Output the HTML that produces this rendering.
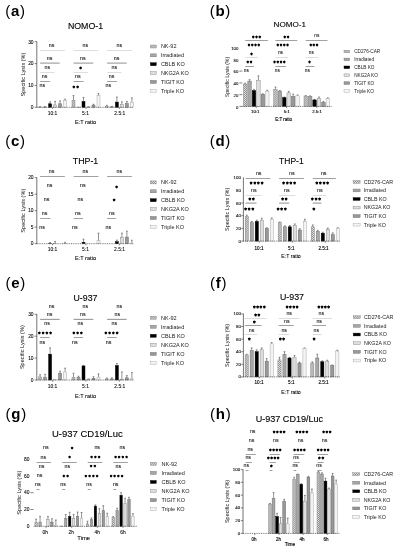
<!DOCTYPE html>
<html lang="en">
<head>
<meta charset="utf-8">
<title>Specific lysis figure</title>
<style>
html,body{margin:0;padding:0;background:#fff;}
body{width:397px;height:550px;overflow:hidden;}
svg{display:block;font-family:"Liberation Sans",Arial,sans-serif;}
</style>
</head>
<body>
<svg width="397" height="550" viewBox="0 0 397 550">
<defs>
<pattern id="hatch" width="1.4" height="1.4" patternUnits="userSpaceOnUse" patternTransform="rotate(-45)">
<rect width="1.4" height="1.4" fill="#e4e4e4"/>
<rect width="1.4" height="0.7" fill="#8c8c8c"/>
</pattern>
</defs>
<rect width="397" height="550" fill="#fff"/>
<g id="panel-a">
<text x="5.2" y="16" font-size="15" letter-spacing="0.75" fill="#000">(<tspan font-weight="bold">a</tspan>)</text>
<text x="85.5" y="28.7" font-size="8.8" text-anchor="middle" fill="#000" stroke="#000" stroke-width="0.12">NOMO-1</text>
<line x1="40.1" y1="50.5" x2="64.9" y2="50.5" stroke="#d4d4d4" stroke-width="0.8"/>
<text x="51.6" y="46.98" font-size="5.3" text-anchor="middle" fill="#000" stroke="#000" stroke-width="0.07">ns</text>
<line x1="40.1" y1="63.1" x2="59.7" y2="63.1" stroke="#9e9e9e" stroke-width="1.15"/>
<text x="49.6" y="59.88" font-size="5.3" text-anchor="middle" fill="#000" stroke="#000" stroke-width="0.07">ns</text>
<line x1="40.1" y1="72.5" x2="54.5" y2="72.5" stroke="#d4d4d4" stroke-width="0.8"/>
<text x="47.4" y="68.68" font-size="5.3" text-anchor="middle" fill="#000" stroke="#000" stroke-width="0.07">ns</text>
<line x1="40.1" y1="81.5" x2="50.1" y2="81.5" stroke="#787878" stroke-width="0.7"/>
<text x="44.6" y="77.98" font-size="5.3" text-anchor="middle" fill="#000" stroke="#000" stroke-width="0.07">ns</text>
<text x="42.3" y="87.28" font-size="5.3" text-anchor="middle" fill="#000" stroke="#000" stroke-width="0.07">ns</text>
<line x1="73.6" y1="50.5" x2="98.4" y2="50.5" stroke="#d4d4d4" stroke-width="0.8"/>
<text x="85.4" y="46.98" font-size="5.3" text-anchor="middle" fill="#000" stroke="#000" stroke-width="0.07">ns</text>
<line x1="73.6" y1="63.1" x2="93.2" y2="63.1" stroke="#9e9e9e" stroke-width="1.15"/>
<text x="82.8" y="59.88" font-size="5.3" text-anchor="middle" fill="#000" stroke="#000" stroke-width="0.07">ns</text>
<line x1="73.6" y1="72.5" x2="88" y2="72.5" stroke="#d4d4d4" stroke-width="0.8"/>
<text x="81.49" y="71.11" font-size="5.6" text-anchor="middle" fill="#000" letter-spacing="1.57" stroke="#000" stroke-width="0.8" stroke-linejoin="round">*</text>
<line x1="73.6" y1="81.5" x2="83.6" y2="81.5" stroke="#787878" stroke-width="0.7"/>
<text x="77.8" y="77.98" font-size="5.3" text-anchor="middle" fill="#000" stroke="#000" stroke-width="0.07">ns</text>
<text x="76.49" y="89.71" font-size="5.6" text-anchor="middle" fill="#000" letter-spacing="1.57" stroke="#000" stroke-width="0.8" stroke-linejoin="round">**</text>
<line x1="107.1" y1="50.5" x2="131.9" y2="50.5" stroke="#d4d4d4" stroke-width="0.8"/>
<text x="119.3" y="46.98" font-size="5.3" text-anchor="middle" fill="#000" stroke="#000" stroke-width="0.07">ns</text>
<line x1="107.1" y1="63.1" x2="126.7" y2="63.1" stroke="#9e9e9e" stroke-width="1.15"/>
<text x="116.6" y="59.88" font-size="5.3" text-anchor="middle" fill="#000" stroke="#000" stroke-width="0.07">ns</text>
<line x1="107.1" y1="72.5" x2="121.5" y2="72.5" stroke="#d4d4d4" stroke-width="0.8"/>
<text x="114.4" y="68.68" font-size="5.3" text-anchor="middle" fill="#000" stroke="#000" stroke-width="0.07">ns</text>
<line x1="107.1" y1="81.5" x2="117.1" y2="81.5" stroke="#787878" stroke-width="0.7"/>
<text x="111.6" y="77.98" font-size="5.3" text-anchor="middle" fill="#000" stroke="#000" stroke-width="0.07">ns</text>
<text x="108.3" y="87.28" font-size="5.3" text-anchor="middle" fill="#000" stroke="#000" stroke-width="0.07">ns</text>
<line x1="40.1" y1="106.97" x2="40.1" y2="106.75" stroke="#3a3a3a" stroke-width="0.55"/>
<line x1="39.2" y1="106.75" x2="41" y2="106.75" stroke="#3a3a3a" stroke-width="0.55"/>
<rect x="38.6" y="106.97" width="3" height="0.33" fill="url(#hatch)" stroke="#808080" stroke-width="0.45"/>
<line x1="45.1" y1="106.97" x2="45.1" y2="106.75" stroke="#3a3a3a" stroke-width="0.55"/>
<line x1="44.2" y1="106.75" x2="46" y2="106.75" stroke="#3a3a3a" stroke-width="0.55"/>
<rect x="43.6" y="106.97" width="3" height="0.33" fill="#a6a6a6" stroke="#6a6a6a" stroke-width="0.45"/>
<line x1="50.1" y1="103.8" x2="50.1" y2="101.84" stroke="#3a3a3a" stroke-width="0.55"/>
<line x1="49.2" y1="101.84" x2="51" y2="101.84" stroke="#3a3a3a" stroke-width="0.55"/>
<rect x="48.6" y="103.8" width="3" height="3.5" fill="#000000" stroke="#000000" stroke-width="0.45"/>
<line x1="55.1" y1="104.9" x2="55.1" y2="101.4" stroke="#3a3a3a" stroke-width="0.55"/>
<line x1="54.2" y1="101.4" x2="56" y2="101.4" stroke="#3a3a3a" stroke-width="0.55"/>
<rect x="53.6" y="104.9" width="3" height="2.4" fill="#dedede" stroke="#808080" stroke-width="0.45"/>
<line x1="60.1" y1="103.8" x2="60.1" y2="100.96" stroke="#3a3a3a" stroke-width="0.55"/>
<line x1="59.2" y1="100.96" x2="61" y2="100.96" stroke="#3a3a3a" stroke-width="0.55"/>
<rect x="58.6" y="103.8" width="3" height="3.5" fill="#989898" stroke="#606060" stroke-width="0.45"/>
<line x1="65.1" y1="100.53" x2="65.1" y2="99.22" stroke="#3a3a3a" stroke-width="0.55"/>
<line x1="64.2" y1="99.22" x2="66" y2="99.22" stroke="#3a3a3a" stroke-width="0.55"/>
<rect x="63.6" y="100.53" width="3" height="6.77" fill="#f3f3f3" stroke="#a2a2a2" stroke-width="0.45"/>
<line x1="73.5" y1="100.31" x2="73.5" y2="95.5" stroke="#3a3a3a" stroke-width="0.55"/>
<line x1="72.6" y1="95.5" x2="74.4" y2="95.5" stroke="#3a3a3a" stroke-width="0.55"/>
<rect x="72" y="100.31" width="3" height="6.99" fill="url(#hatch)" stroke="#808080" stroke-width="0.45"/>
<rect x="77" y="107.08" width="3" height="0.22" fill="#a6a6a6" stroke="#6a6a6a" stroke-width="0.45"/>
<line x1="83.5" y1="101.4" x2="83.5" y2="97.47" stroke="#3a3a3a" stroke-width="0.55"/>
<line x1="82.6" y1="97.47" x2="84.4" y2="97.47" stroke="#3a3a3a" stroke-width="0.55"/>
<rect x="82" y="101.4" width="3" height="5.9" fill="#000000" stroke="#000000" stroke-width="0.45"/>
<line x1="88.5" y1="106.97" x2="88.5" y2="106.75" stroke="#3a3a3a" stroke-width="0.55"/>
<line x1="87.6" y1="106.75" x2="89.4" y2="106.75" stroke="#3a3a3a" stroke-width="0.55"/>
<rect x="87" y="106.97" width="3" height="0.33" fill="#dedede" stroke="#808080" stroke-width="0.45"/>
<line x1="93.5" y1="105.11" x2="93.5" y2="104.24" stroke="#3a3a3a" stroke-width="0.55"/>
<line x1="92.6" y1="104.24" x2="94.4" y2="104.24" stroke="#3a3a3a" stroke-width="0.55"/>
<rect x="92" y="105.11" width="3" height="2.19" fill="#989898" stroke="#606060" stroke-width="0.45"/>
<line x1="98.5" y1="95.72" x2="98.5" y2="93.53" stroke="#3a3a3a" stroke-width="0.55"/>
<line x1="97.6" y1="93.53" x2="99.4" y2="93.53" stroke="#3a3a3a" stroke-width="0.55"/>
<rect x="97" y="95.72" width="3" height="11.58" fill="#f3f3f3" stroke="#a2a2a2" stroke-width="0.45"/>
<line x1="106.9" y1="106.43" x2="106.9" y2="105.33" stroke="#3a3a3a" stroke-width="0.55"/>
<line x1="106" y1="105.33" x2="107.8" y2="105.33" stroke="#3a3a3a" stroke-width="0.55"/>
<rect x="105.4" y="106.43" width="3" height="0.87" fill="url(#hatch)" stroke="#808080" stroke-width="0.45"/>
<line x1="111.9" y1="106.86" x2="111.9" y2="106.43" stroke="#3a3a3a" stroke-width="0.55"/>
<line x1="111" y1="106.43" x2="112.8" y2="106.43" stroke="#3a3a3a" stroke-width="0.55"/>
<rect x="110.4" y="106.86" width="3" height="0.44" fill="#a6a6a6" stroke="#6a6a6a" stroke-width="0.45"/>
<line x1="116.9" y1="102.06" x2="116.9" y2="97.03" stroke="#3a3a3a" stroke-width="0.55"/>
<line x1="116" y1="97.03" x2="117.8" y2="97.03" stroke="#3a3a3a" stroke-width="0.55"/>
<rect x="115.4" y="102.06" width="3" height="5.24" fill="#000000" stroke="#000000" stroke-width="0.45"/>
<line x1="121.9" y1="104.68" x2="121.9" y2="101.84" stroke="#3a3a3a" stroke-width="0.55"/>
<line x1="121" y1="101.84" x2="122.8" y2="101.84" stroke="#3a3a3a" stroke-width="0.55"/>
<rect x="120.4" y="104.68" width="3" height="2.62" fill="#dedede" stroke="#808080" stroke-width="0.45"/>
<line x1="126.9" y1="103.37" x2="126.9" y2="101.4" stroke="#3a3a3a" stroke-width="0.55"/>
<line x1="126" y1="101.4" x2="127.8" y2="101.4" stroke="#3a3a3a" stroke-width="0.55"/>
<rect x="125.4" y="103.37" width="3" height="3.93" fill="#989898" stroke="#606060" stroke-width="0.45"/>
<line x1="131.9" y1="102.27" x2="131.9" y2="97.9" stroke="#3a3a3a" stroke-width="0.55"/>
<line x1="131" y1="97.9" x2="132.8" y2="97.9" stroke="#3a3a3a" stroke-width="0.55"/>
<rect x="130.4" y="102.27" width="3" height="5.03" fill="#f3f3f3" stroke="#a2a2a2" stroke-width="0.45"/>
<line x1="36.8" y1="41.45" x2="36.8" y2="107.6" stroke="#2a2a2a" stroke-width="0.65"/>
<line x1="36.8" y1="107.3" x2="133" y2="107.3" stroke="#444" stroke-width="0.7" stroke-dasharray="1 0.8"/>
<line x1="52.6" y1="107.3" x2="52.6" y2="108.9" stroke="#333" stroke-width="0.6"/>
<line x1="86" y1="107.3" x2="86" y2="108.9" stroke="#333" stroke-width="0.6"/>
<line x1="119.4" y1="107.3" x2="119.4" y2="108.9" stroke="#333" stroke-width="0.6"/>
<line x1="34.6" y1="107.3" x2="36.8" y2="107.3" stroke="#333" stroke-width="0.6"/>
<text x="33.6" y="109.06" font-size="4.9" text-anchor="end" fill="#000" stroke="#000" stroke-width="0.08">0</text>
<line x1="34.6" y1="85.45" x2="36.8" y2="85.45" stroke="#333" stroke-width="0.6"/>
<text x="33.6" y="87.21" font-size="4.9" text-anchor="end" fill="#000" stroke="#000" stroke-width="0.08">10</text>
<line x1="34.6" y1="63.6" x2="36.8" y2="63.6" stroke="#333" stroke-width="0.6"/>
<text x="33.6" y="65.36" font-size="4.9" text-anchor="end" fill="#000" stroke="#000" stroke-width="0.08">20</text>
<line x1="34.6" y1="41.75" x2="36.8" y2="41.75" stroke="#333" stroke-width="0.6"/>
<text x="33.6" y="43.51" font-size="4.9" text-anchor="end" fill="#000" stroke="#000" stroke-width="0.08">30</text>
<text transform="translate(25 74.53) rotate(-90)" font-size="5.6" text-anchor="middle" fill="#111">Specific Lysis (%)</text>
<text x="52.5" y="115.3" font-size="4.9" text-anchor="middle" fill="#000" stroke="#000" stroke-width="0.08">10:1</text>
<text x="85.5" y="115.3" font-size="4.9" text-anchor="middle" fill="#000" stroke="#000" stroke-width="0.08">5:1</text>
<text x="119.8" y="115.3" font-size="4.9" text-anchor="middle" fill="#000" stroke="#000" stroke-width="0.08">2.5:1</text>
<text x="85.5" y="124.3" font-size="5.6" text-anchor="middle" fill="#000" stroke="#000" stroke-width="0.08">E:T ratio</text>
<rect x="150.4" y="45" width="5.9" height="3" fill="url(#hatch)" stroke="#808080" stroke-width="0.4"/>
<text x="160.9" y="48.48" font-size="5.5" text-anchor="start" fill="#1a1a1a">NK-92</text>
<rect x="150.4" y="53.85" width="5.9" height="3" fill="#a6a6a6" stroke="#6a6a6a" stroke-width="0.4"/>
<text x="160.9" y="57.33" font-size="5.5" text-anchor="start" fill="#1a1a1a">Irradiated</text>
<rect x="150.4" y="62.7" width="5.9" height="3" fill="#000000" stroke="#000000" stroke-width="0.4"/>
<text x="160.9" y="66.18" font-size="5.5" text-anchor="start" fill="#1a1a1a">CBLB KO</text>
<rect x="150.4" y="71.55" width="5.9" height="3" fill="#dedede" stroke="#808080" stroke-width="0.4"/>
<text x="160.9" y="75.03" font-size="5.5" text-anchor="start" fill="#1a1a1a">NKG2A KO</text>
<rect x="150.4" y="80.4" width="5.9" height="3" fill="#989898" stroke="#606060" stroke-width="0.4"/>
<text x="160.9" y="83.88" font-size="5.5" text-anchor="start" fill="#1a1a1a">TIGIT KO</text>
<rect x="150.4" y="89.25" width="5.9" height="3" fill="#f3f3f3" stroke="#a2a2a2" stroke-width="0.4"/>
<text x="160.9" y="92.73" font-size="5.5" text-anchor="start" fill="#1a1a1a">Triple KO</text>
</g>
<g id="panel-b">
<text x="209.7" y="16" font-size="15" letter-spacing="0.75" fill="#000">(<tspan font-weight="bold">b</tspan>)</text>
<text x="289.8" y="27.4" font-size="8.1" text-anchor="middle" fill="#000" stroke="#000" stroke-width="0.12">NOMO-1</text>
<line x1="245.2" y1="40.5" x2="267.9" y2="40.5" stroke="#787878" stroke-width="0.7"/>
<text x="257.11" y="39.74" font-size="5.2" text-anchor="middle" fill="#000" letter-spacing="1.23" stroke="#000" stroke-width="0.8" stroke-linejoin="round">***</text>
<text x="254.51" y="47.74" font-size="5.2" text-anchor="middle" fill="#000" letter-spacing="1.23" stroke="#000" stroke-width="0.8" stroke-linejoin="round">****</text>
<line x1="245.2" y1="57.5" x2="257.8" y2="57.5" stroke="#d4d4d4" stroke-width="0.8"/>
<text x="252.21" y="56.54" font-size="5.2" text-anchor="middle" fill="#000" letter-spacing="1.23" stroke="#000" stroke-width="0.8" stroke-linejoin="round">*</text>
<line x1="245.2" y1="66.5" x2="254" y2="66.5" stroke="#787878" stroke-width="0.7"/>
<text x="249.91" y="65.34" font-size="5.2" text-anchor="middle" fill="#000" letter-spacing="1.23" stroke="#000" stroke-width="0.8" stroke-linejoin="round">**</text>
<text x="246.4" y="72.05" font-size="4.8" text-anchor="middle" fill="#000" stroke="#000" stroke-width="0.05">ns</text>
<line x1="275.4" y1="40.5" x2="297.3" y2="40.5" stroke="#787878" stroke-width="0.7"/>
<text x="286.91" y="39.74" font-size="5.2" text-anchor="middle" fill="#000" letter-spacing="1.23" stroke="#000" stroke-width="0.8" stroke-linejoin="round">**</text>
<text x="283.31" y="47.74" font-size="5.2" text-anchor="middle" fill="#000" letter-spacing="1.23" stroke="#000" stroke-width="0.8" stroke-linejoin="round">****</text>
<line x1="275.4" y1="57.5" x2="288" y2="57.5" stroke="#d4d4d4" stroke-width="0.8"/>
<text x="280.5" y="54.25" font-size="4.8" text-anchor="middle" fill="#000" stroke="#000" stroke-width="0.05">ns</text>
<line x1="275.4" y1="66.5" x2="286" y2="66.5" stroke="#787878" stroke-width="0.7"/>
<text x="279.91" y="65.34" font-size="5.2" text-anchor="middle" fill="#000" letter-spacing="1.23" stroke="#000" stroke-width="0.8" stroke-linejoin="round">****</text>
<text x="277.4" y="72.05" font-size="4.8" text-anchor="middle" fill="#000" stroke="#000" stroke-width="0.05">ns</text>
<line x1="305.6" y1="40.5" x2="327.5" y2="40.5" stroke="#787878" stroke-width="0.7"/>
<text x="316.9" y="37.45" font-size="4.8" text-anchor="middle" fill="#000" stroke="#000" stroke-width="0.05">ns</text>
<text x="314.51" y="47.74" font-size="5.2" text-anchor="middle" fill="#000" letter-spacing="1.23" stroke="#000" stroke-width="0.8" stroke-linejoin="round">***</text>
<line x1="305.6" y1="57.5" x2="318.2" y2="57.5" stroke="#d4d4d4" stroke-width="0.8"/>
<text x="311.3" y="54.25" font-size="4.8" text-anchor="middle" fill="#000" stroke="#000" stroke-width="0.05">ns</text>
<line x1="305.6" y1="66.5" x2="314.4" y2="66.5" stroke="#787878" stroke-width="0.7"/>
<text x="310.21" y="65.34" font-size="5.2" text-anchor="middle" fill="#000" letter-spacing="1.23" stroke="#000" stroke-width="0.8" stroke-linejoin="round">*</text>
<text x="307.3" y="72.05" font-size="4.8" text-anchor="middle" fill="#000" stroke="#000" stroke-width="0.05">ns</text>
<line x1="245.15" y1="84.08" x2="245.15" y2="83.19" stroke="#3a3a3a" stroke-width="0.55"/>
<line x1="244.25" y1="83.19" x2="246.05" y2="83.19" stroke="#3a3a3a" stroke-width="0.55"/>
<rect x="243.4" y="84.08" width="3.5" height="22.32" fill="url(#hatch)" stroke="#808080" stroke-width="0.45"/>
<line x1="249.57" y1="81.14" x2="249.57" y2="79.67" stroke="#3a3a3a" stroke-width="0.55"/>
<line x1="248.67" y1="79.67" x2="250.47" y2="79.67" stroke="#3a3a3a" stroke-width="0.55"/>
<rect x="247.82" y="81.14" width="3.5" height="25.26" fill="#a6a6a6" stroke="#6a6a6a" stroke-width="0.45"/>
<line x1="253.99" y1="90.54" x2="253.99" y2="89.36" stroke="#3a3a3a" stroke-width="0.55"/>
<line x1="253.09" y1="89.36" x2="254.89" y2="89.36" stroke="#3a3a3a" stroke-width="0.55"/>
<rect x="252.24" y="90.54" width="3.5" height="15.86" fill="#000000" stroke="#000000" stroke-width="0.45"/>
<line x1="258.41" y1="80.55" x2="258.41" y2="75.85" stroke="#3a3a3a" stroke-width="0.55"/>
<line x1="257.51" y1="75.85" x2="259.31" y2="75.85" stroke="#3a3a3a" stroke-width="0.55"/>
<rect x="256.66" y="80.55" width="3.5" height="25.85" fill="#dedede" stroke="#808080" stroke-width="0.45"/>
<line x1="262.83" y1="94.36" x2="262.83" y2="93.77" stroke="#3a3a3a" stroke-width="0.55"/>
<line x1="261.93" y1="93.77" x2="263.73" y2="93.77" stroke="#3a3a3a" stroke-width="0.55"/>
<rect x="261.08" y="94.36" width="3.5" height="12.04" fill="#989898" stroke="#606060" stroke-width="0.45"/>
<line x1="267.25" y1="91.12" x2="267.25" y2="90.24" stroke="#3a3a3a" stroke-width="0.55"/>
<line x1="266.35" y1="90.24" x2="268.15" y2="90.24" stroke="#3a3a3a" stroke-width="0.55"/>
<rect x="265.5" y="91.12" width="3.5" height="15.28" fill="#f3f3f3" stroke="#a2a2a2" stroke-width="0.45"/>
<line x1="275.45" y1="89.36" x2="275.45" y2="87.01" stroke="#3a3a3a" stroke-width="0.55"/>
<line x1="274.55" y1="87.01" x2="276.35" y2="87.01" stroke="#3a3a3a" stroke-width="0.55"/>
<rect x="273.7" y="89.36" width="3.5" height="17.04" fill="url(#hatch)" stroke="#808080" stroke-width="0.45"/>
<line x1="279.87" y1="91.12" x2="279.87" y2="90.54" stroke="#3a3a3a" stroke-width="0.55"/>
<line x1="278.97" y1="90.54" x2="280.77" y2="90.54" stroke="#3a3a3a" stroke-width="0.55"/>
<rect x="278.12" y="91.12" width="3.5" height="15.28" fill="#a6a6a6" stroke="#6a6a6a" stroke-width="0.45"/>
<line x1="284.29" y1="97.59" x2="284.29" y2="97" stroke="#3a3a3a" stroke-width="0.55"/>
<line x1="283.39" y1="97" x2="285.19" y2="97" stroke="#3a3a3a" stroke-width="0.55"/>
<rect x="282.54" y="97.59" width="3.5" height="8.81" fill="#000000" stroke="#000000" stroke-width="0.45"/>
<line x1="288.71" y1="92.89" x2="288.71" y2="91.42" stroke="#3a3a3a" stroke-width="0.55"/>
<line x1="287.81" y1="91.42" x2="289.61" y2="91.42" stroke="#3a3a3a" stroke-width="0.55"/>
<rect x="286.96" y="92.89" width="3.5" height="13.51" fill="#dedede" stroke="#808080" stroke-width="0.45"/>
<line x1="293.13" y1="96.41" x2="293.13" y2="94.06" stroke="#3a3a3a" stroke-width="0.55"/>
<line x1="292.23" y1="94.06" x2="294.03" y2="94.06" stroke="#3a3a3a" stroke-width="0.55"/>
<rect x="291.38" y="96.41" width="3.5" height="9.99" fill="#989898" stroke="#606060" stroke-width="0.45"/>
<line x1="297.55" y1="95.83" x2="297.55" y2="94.94" stroke="#3a3a3a" stroke-width="0.55"/>
<line x1="296.65" y1="94.94" x2="298.45" y2="94.94" stroke="#3a3a3a" stroke-width="0.55"/>
<rect x="295.8" y="95.83" width="3.5" height="10.58" fill="#f3f3f3" stroke="#a2a2a2" stroke-width="0.45"/>
<line x1="305.75" y1="96.12" x2="305.75" y2="95.53" stroke="#3a3a3a" stroke-width="0.55"/>
<line x1="304.85" y1="95.53" x2="306.65" y2="95.53" stroke="#3a3a3a" stroke-width="0.55"/>
<rect x="304" y="96.12" width="3.5" height="10.28" fill="url(#hatch)" stroke="#808080" stroke-width="0.45"/>
<line x1="310.17" y1="96.41" x2="310.17" y2="95.83" stroke="#3a3a3a" stroke-width="0.55"/>
<line x1="309.27" y1="95.83" x2="311.07" y2="95.83" stroke="#3a3a3a" stroke-width="0.55"/>
<rect x="308.42" y="96.41" width="3.5" height="9.99" fill="#a6a6a6" stroke="#6a6a6a" stroke-width="0.45"/>
<line x1="314.59" y1="99.94" x2="314.59" y2="99.35" stroke="#3a3a3a" stroke-width="0.55"/>
<line x1="313.69" y1="99.35" x2="315.49" y2="99.35" stroke="#3a3a3a" stroke-width="0.55"/>
<rect x="312.84" y="99.94" width="3.5" height="6.46" fill="#000000" stroke="#000000" stroke-width="0.45"/>
<line x1="319.01" y1="98.76" x2="319.01" y2="97" stroke="#3a3a3a" stroke-width="0.55"/>
<line x1="318.11" y1="97" x2="319.91" y2="97" stroke="#3a3a3a" stroke-width="0.55"/>
<rect x="317.26" y="98.76" width="3.5" height="7.64" fill="#dedede" stroke="#808080" stroke-width="0.45"/>
<line x1="323.43" y1="102.58" x2="323.43" y2="101.41" stroke="#3a3a3a" stroke-width="0.55"/>
<line x1="322.53" y1="101.41" x2="324.33" y2="101.41" stroke="#3a3a3a" stroke-width="0.55"/>
<rect x="321.68" y="102.58" width="3.5" height="3.82" fill="#989898" stroke="#606060" stroke-width="0.45"/>
<line x1="327.85" y1="98.76" x2="327.85" y2="97.88" stroke="#3a3a3a" stroke-width="0.55"/>
<line x1="326.95" y1="97.88" x2="328.75" y2="97.88" stroke="#3a3a3a" stroke-width="0.55"/>
<rect x="326.1" y="98.76" width="3.5" height="7.64" fill="#f3f3f3" stroke="#a2a2a2" stroke-width="0.45"/>
<line x1="242.4" y1="106.4" x2="332" y2="106.4" stroke="#444" stroke-width="0.7" stroke-dasharray="1 0.8"/>
<line x1="256.2" y1="106.4" x2="256.2" y2="108" stroke="#333" stroke-width="0.6"/>
<line x1="286.5" y1="106.4" x2="286.5" y2="108" stroke="#333" stroke-width="0.6"/>
<line x1="316.8" y1="106.4" x2="316.8" y2="108" stroke="#333" stroke-width="0.6"/>
<line x1="239.4" y1="106.4" x2="242.4" y2="106.4" stroke="#333" stroke-width="0.6"/>
<text x="238.4" y="108.65" font-size="4.3" text-anchor="end" fill="#000" stroke="#000" stroke-width="0.08">0</text>
<line x1="239.4" y1="94.65" x2="242.4" y2="94.65" stroke="#333" stroke-width="0.6"/>
<text x="238.4" y="96.9" font-size="4.3" text-anchor="end" fill="#000" stroke="#000" stroke-width="0.08">20</text>
<line x1="239.4" y1="82.9" x2="242.4" y2="82.9" stroke="#333" stroke-width="0.6"/>
<text x="238.4" y="85.15" font-size="4.3" text-anchor="end" fill="#000" stroke="#000" stroke-width="0.08">40</text>
<line x1="239.4" y1="71.15" x2="242.4" y2="71.15" stroke="#333" stroke-width="0.6"/>
<text x="238.4" y="73.4" font-size="4.3" text-anchor="end" fill="#000" stroke="#000" stroke-width="0.08">60</text>
<text x="238.4" y="61.65" font-size="4.3" text-anchor="end" fill="#000" stroke="#000" stroke-width="0.08">80</text>
<text x="238.4" y="49.9" font-size="4.3" text-anchor="end" fill="#000" stroke="#000" stroke-width="0.08">100</text>
<text transform="translate(229.2 77.03) rotate(-90)" font-size="5.15" text-anchor="middle" fill="#111">Specific Lysis (%)</text>
<text x="255.3" y="113" font-size="4.3" text-anchor="middle" fill="#000" stroke="#000" stroke-width="0.13">10:1</text>
<text x="286.8" y="113" font-size="4.3" text-anchor="middle" fill="#000" stroke="#000" stroke-width="0.13">5:1</text>
<text x="317" y="113" font-size="4.3" text-anchor="middle" fill="#000" stroke="#000" stroke-width="0.13">2.5:1</text>
<text x="283.6" y="120.5" font-size="4.5" text-anchor="middle" fill="#000" stroke="#000" stroke-width="0.14">E:T ratio</text>
<rect x="344" y="50.2" width="5.7" height="2.6" fill="url(#hatch)" stroke="#808080" stroke-width="0.4"/>
<text x="354.2" y="53.19" font-size="4.7" text-anchor="start" fill="#1a1a1a">CD276-CAR</text>
<rect x="344" y="58.1" width="5.7" height="2.6" fill="#a6a6a6" stroke="#6a6a6a" stroke-width="0.4"/>
<text x="354.2" y="61.09" font-size="4.7" text-anchor="start" fill="#1a1a1a">Irradiated</text>
<rect x="344" y="66" width="5.7" height="2.6" fill="#000000" stroke="#000000" stroke-width="0.4"/>
<text x="354.2" y="68.99" font-size="4.7" text-anchor="start" fill="#1a1a1a">CBLB KO</text>
<rect x="344" y="73.9" width="5.7" height="2.6" fill="#dedede" stroke="#808080" stroke-width="0.4"/>
<text x="354.2" y="76.89" font-size="4.7" text-anchor="start" fill="#1a1a1a">NKG2A KO</text>
<rect x="344" y="81.8" width="5.7" height="2.6" fill="#989898" stroke="#606060" stroke-width="0.4"/>
<text x="354.2" y="84.79" font-size="4.7" text-anchor="start" fill="#1a1a1a">TIGIT KO</text>
<rect x="344" y="89.7" width="5.7" height="2.6" fill="#f3f3f3" stroke="#a2a2a2" stroke-width="0.4"/>
<text x="354.2" y="92.69" font-size="4.7" text-anchor="start" fill="#1a1a1a">Triple KO</text>
</g>
<g id="panel-c">
<text x="5.2" y="146" font-size="15" letter-spacing="0.75" fill="#000">(<tspan font-weight="bold">c</tspan>)</text>
<text x="85.5" y="164.4" font-size="8.8" text-anchor="middle" fill="#000" stroke="#000" stroke-width="0.12">THP-1</text>
<line x1="40.1" y1="176.5" x2="64.9" y2="176.5" stroke="#787878" stroke-width="0.7"/>
<text x="51.6" y="173.28" font-size="5.3" text-anchor="middle" fill="#000" stroke="#000" stroke-width="0.07">ns</text>
<text x="49.6" y="187.18" font-size="5.3" text-anchor="middle" fill="#000" stroke="#000" stroke-width="0.07">ns</text>
<text x="46.6" y="200.98" font-size="5.3" text-anchor="middle" fill="#000" stroke="#000" stroke-width="0.07">ns</text>
<line x1="40.1" y1="218.5" x2="50.4" y2="218.5" stroke="#787878" stroke-width="0.7"/>
<text x="44.6" y="214.88" font-size="5.3" text-anchor="middle" fill="#000" stroke="#000" stroke-width="0.07">ns</text>
<text x="42.1" y="228.68" font-size="5.3" text-anchor="middle" fill="#000" stroke="#000" stroke-width="0.07">ns</text>
<line x1="73.6" y1="176.5" x2="98.4" y2="176.5" stroke="#787878" stroke-width="0.7"/>
<text x="85.4" y="173.28" font-size="5.3" text-anchor="middle" fill="#000" stroke="#000" stroke-width="0.07">ns</text>
<text x="82.8" y="187.18" font-size="5.3" text-anchor="middle" fill="#000" stroke="#000" stroke-width="0.07">ns</text>
<text x="80.4" y="200.98" font-size="5.3" text-anchor="middle" fill="#000" stroke="#000" stroke-width="0.07">ns</text>
<line x1="73.6" y1="218.5" x2="83" y2="218.5" stroke="#787878" stroke-width="0.7"/>
<text x="77.8" y="214.88" font-size="5.3" text-anchor="middle" fill="#000" stroke="#000" stroke-width="0.07">ns</text>
<text x="74.9" y="228.68" font-size="5.3" text-anchor="middle" fill="#000" stroke="#000" stroke-width="0.07">ns</text>
<line x1="107.1" y1="176.5" x2="131.9" y2="176.5" stroke="#787878" stroke-width="0.7"/>
<text x="119.3" y="173.28" font-size="5.3" text-anchor="middle" fill="#000" stroke="#000" stroke-width="0.07">ns</text>
<text x="117.39" y="189.61" font-size="5.6" text-anchor="middle" fill="#000" letter-spacing="1.57" stroke="#000" stroke-width="0.8" stroke-linejoin="round">*</text>
<text x="114.89" y="203.41" font-size="5.6" text-anchor="middle" fill="#000" letter-spacing="1.57" stroke="#000" stroke-width="0.8" stroke-linejoin="round">*</text>
<line x1="107.1" y1="218.5" x2="115.9" y2="218.5" stroke="#787878" stroke-width="0.7"/>
<text x="111.8" y="214.88" font-size="5.3" text-anchor="middle" fill="#000" stroke="#000" stroke-width="0.07">ns</text>
<text x="108.3" y="228.68" font-size="5.3" text-anchor="middle" fill="#000" stroke="#000" stroke-width="0.07">ns</text>
<line x1="50.1" y1="243.53" x2="50.1" y2="242.54" stroke="#3a3a3a" stroke-width="0.55"/>
<line x1="49.2" y1="242.54" x2="51" y2="242.54" stroke="#3a3a3a" stroke-width="0.55"/>
<rect x="48.6" y="243.53" width="3" height="0.17" fill="#000000" stroke="#000000" stroke-width="0.45"/>
<line x1="55.1" y1="243.53" x2="55.1" y2="241.55" stroke="#3a3a3a" stroke-width="0.55"/>
<line x1="54.2" y1="241.55" x2="56" y2="241.55" stroke="#3a3a3a" stroke-width="0.55"/>
<rect x="53.6" y="243.53" width="3" height="0.17" fill="#dedede" stroke="#808080" stroke-width="0.45"/>
<line x1="65.1" y1="243.53" x2="65.1" y2="242.38" stroke="#3a3a3a" stroke-width="0.55"/>
<line x1="64.2" y1="242.38" x2="66" y2="242.38" stroke="#3a3a3a" stroke-width="0.55"/>
<rect x="63.6" y="243.53" width="3" height="0.17" fill="#f3f3f3" stroke="#a2a2a2" stroke-width="0.45"/>
<line x1="83.5" y1="242.21" x2="83.5" y2="239.24" stroke="#3a3a3a" stroke-width="0.55"/>
<line x1="82.6" y1="239.24" x2="84.4" y2="239.24" stroke="#3a3a3a" stroke-width="0.55"/>
<rect x="82" y="242.21" width="3" height="1.48" fill="#000000" stroke="#000000" stroke-width="0.45"/>
<line x1="98.5" y1="240.73" x2="98.5" y2="233.14" stroke="#3a3a3a" stroke-width="0.55"/>
<line x1="97.6" y1="233.14" x2="99.4" y2="233.14" stroke="#3a3a3a" stroke-width="0.55"/>
<rect x="97" y="240.73" width="3" height="2.97" fill="#f3f3f3" stroke="#a2a2a2" stroke-width="0.45"/>
<line x1="116.9" y1="241.72" x2="116.9" y2="240.07" stroke="#3a3a3a" stroke-width="0.55"/>
<line x1="116" y1="240.07" x2="117.8" y2="240.07" stroke="#3a3a3a" stroke-width="0.55"/>
<rect x="115.4" y="241.72" width="3" height="1.98" fill="#000000" stroke="#000000" stroke-width="0.45"/>
<line x1="121.9" y1="237.76" x2="121.9" y2="233.14" stroke="#3a3a3a" stroke-width="0.55"/>
<line x1="121" y1="233.14" x2="122.8" y2="233.14" stroke="#3a3a3a" stroke-width="0.55"/>
<rect x="120.4" y="237.76" width="3" height="5.94" fill="#dedede" stroke="#808080" stroke-width="0.45"/>
<line x1="126.9" y1="237.1" x2="126.9" y2="231.16" stroke="#3a3a3a" stroke-width="0.55"/>
<line x1="126" y1="231.16" x2="127.8" y2="231.16" stroke="#3a3a3a" stroke-width="0.55"/>
<rect x="125.4" y="237.1" width="3" height="6.6" fill="#989898" stroke="#606060" stroke-width="0.45"/>
<line x1="131.9" y1="243.2" x2="131.9" y2="240.23" stroke="#3a3a3a" stroke-width="0.55"/>
<line x1="131" y1="240.23" x2="132.8" y2="240.23" stroke="#3a3a3a" stroke-width="0.55"/>
<rect x="130.4" y="243.2" width="3" height="0.49" fill="#f3f3f3" stroke="#a2a2a2" stroke-width="0.45"/>
<line x1="36.8" y1="177.4" x2="36.8" y2="244" stroke="#2a2a2a" stroke-width="0.65"/>
<line x1="36.8" y1="243.7" x2="133" y2="243.7" stroke="#444" stroke-width="0.7" stroke-dasharray="1 0.8"/>
<line x1="52.6" y1="243.7" x2="52.6" y2="245.3" stroke="#333" stroke-width="0.6"/>
<line x1="86" y1="243.7" x2="86" y2="245.3" stroke="#333" stroke-width="0.6"/>
<line x1="119.4" y1="243.7" x2="119.4" y2="245.3" stroke="#333" stroke-width="0.6"/>
<line x1="34.6" y1="243.7" x2="36.8" y2="243.7" stroke="#333" stroke-width="0.6"/>
<text x="33.6" y="245.46" font-size="4.9" text-anchor="end" fill="#000" stroke="#000" stroke-width="0.08">0</text>
<line x1="34.6" y1="227.2" x2="36.8" y2="227.2" stroke="#333" stroke-width="0.6"/>
<text x="33.6" y="228.96" font-size="4.9" text-anchor="end" fill="#000" stroke="#000" stroke-width="0.08">5</text>
<line x1="34.6" y1="210.7" x2="36.8" y2="210.7" stroke="#333" stroke-width="0.6"/>
<text x="33.6" y="212.46" font-size="4.9" text-anchor="end" fill="#000" stroke="#000" stroke-width="0.08">10</text>
<line x1="34.6" y1="194.2" x2="36.8" y2="194.2" stroke="#333" stroke-width="0.6"/>
<text x="33.6" y="195.96" font-size="4.9" text-anchor="end" fill="#000" stroke="#000" stroke-width="0.08">15</text>
<line x1="34.6" y1="177.7" x2="36.8" y2="177.7" stroke="#333" stroke-width="0.6"/>
<text x="33.6" y="179.46" font-size="4.9" text-anchor="end" fill="#000" stroke="#000" stroke-width="0.08">20</text>
<text transform="translate(25 210.7) rotate(-90)" font-size="5.6" text-anchor="middle" fill="#111">Specific Lysis (%)</text>
<text x="52.5" y="250.5" font-size="4.9" text-anchor="middle" fill="#000" stroke="#000" stroke-width="0.08">10:1</text>
<text x="85.5" y="250.5" font-size="4.9" text-anchor="middle" fill="#000" stroke="#000" stroke-width="0.08">5:1</text>
<text x="119.5" y="250.5" font-size="4.9" text-anchor="middle" fill="#000" stroke="#000" stroke-width="0.08">2.5:1</text>
<text x="85.5" y="260" font-size="5.6" text-anchor="middle" fill="#000" stroke="#000" stroke-width="0.08">E:T ratio</text>
<rect x="150.3" y="180.9" width="5.9" height="3" fill="url(#hatch)" stroke="#808080" stroke-width="0.4"/>
<text x="161" y="184.38" font-size="5.5" text-anchor="start" fill="#1a1a1a">NK-92</text>
<rect x="150.3" y="189.8" width="5.9" height="3" fill="#a6a6a6" stroke="#6a6a6a" stroke-width="0.4"/>
<text x="161" y="193.28" font-size="5.5" text-anchor="start" fill="#1a1a1a">Irradiated</text>
<rect x="150.3" y="198.7" width="5.9" height="3" fill="#000000" stroke="#000000" stroke-width="0.4"/>
<text x="161" y="202.18" font-size="5.5" text-anchor="start" fill="#1a1a1a">CBLB KO</text>
<rect x="150.3" y="207.6" width="5.9" height="3" fill="#dedede" stroke="#808080" stroke-width="0.4"/>
<text x="161" y="211.08" font-size="5.5" text-anchor="start" fill="#1a1a1a">NKG2A KO</text>
<rect x="150.3" y="216.5" width="5.9" height="3" fill="#989898" stroke="#606060" stroke-width="0.4"/>
<text x="161" y="219.98" font-size="5.5" text-anchor="start" fill="#1a1a1a">TIGIT KO</text>
<rect x="150.3" y="225.4" width="5.9" height="3" fill="#f3f3f3" stroke="#a2a2a2" stroke-width="0.4"/>
<text x="161" y="228.88" font-size="5.5" text-anchor="start" fill="#1a1a1a">Triple KO</text>
</g>
<g id="panel-d">
<text x="209.7" y="146" font-size="15" letter-spacing="0.75" fill="#000">(<tspan font-weight="bold">d</tspan>)</text>
<text x="291.4" y="164.3" font-size="8.5" text-anchor="middle" fill="#000" stroke="#000" stroke-width="0.12">THP-1</text>
<line x1="245.5" y1="178.5" x2="270.4" y2="178.5" stroke="#787878" stroke-width="0.7"/>
<text x="258.7" y="175.18" font-size="5.3" text-anchor="middle" fill="#000" stroke="#000" stroke-width="0.05">ns</text>
<text x="257.31" y="186.01" font-size="5.6" text-anchor="middle" fill="#000" letter-spacing="1.42" stroke="#000" stroke-width="0.8999999999999999" stroke-linejoin="round">****</text>
<line x1="245.5" y1="195.5" x2="261.6" y2="195.5" stroke="#d4d4d4" stroke-width="0.8"/>
<text x="253.9" y="191.78" font-size="5.3" text-anchor="middle" fill="#000" stroke="#000" stroke-width="0.05">ns</text>
<line x1="245.5" y1="203.1" x2="256.5" y2="203.1" stroke="#9e9e9e" stroke-width="1.15"/>
<text x="252.31" y="202.31" font-size="5.6" text-anchor="middle" fill="#000" letter-spacing="1.42" stroke="#000" stroke-width="0.8999999999999999" stroke-linejoin="round">**</text>
<text x="249.91" y="211.61" font-size="5.6" text-anchor="middle" fill="#000" letter-spacing="1.42" stroke="#000" stroke-width="0.8999999999999999" stroke-linejoin="round">***</text>
<line x1="279.1" y1="178.5" x2="304" y2="178.5" stroke="#787878" stroke-width="0.7"/>
<text x="291.9" y="175.18" font-size="5.3" text-anchor="middle" fill="#000" stroke="#000" stroke-width="0.05">ns</text>
<text x="289.81" y="186.01" font-size="5.6" text-anchor="middle" fill="#000" letter-spacing="1.42" stroke="#000" stroke-width="0.8999999999999999" stroke-linejoin="round">****</text>
<line x1="279.1" y1="195.5" x2="295.2" y2="195.5" stroke="#d4d4d4" stroke-width="0.8"/>
<text x="286.8" y="191.78" font-size="5.3" text-anchor="middle" fill="#000" stroke="#000" stroke-width="0.05">ns</text>
<line x1="279.1" y1="203.1" x2="289.3" y2="203.1" stroke="#9e9e9e" stroke-width="1.15"/>
<text x="285.11" y="202.31" font-size="5.6" text-anchor="middle" fill="#000" letter-spacing="1.42" stroke="#000" stroke-width="0.8999999999999999" stroke-linejoin="round">**</text>
<text x="282.41" y="211.61" font-size="5.6" text-anchor="middle" fill="#000" letter-spacing="1.42" stroke="#000" stroke-width="0.8999999999999999" stroke-linejoin="round">***</text>
<line x1="312.7" y1="178.5" x2="335.9" y2="178.5" stroke="#787878" stroke-width="0.7"/>
<text x="323.7" y="175.18" font-size="5.3" text-anchor="middle" fill="#000" stroke="#000" stroke-width="0.05">ns</text>
<text x="322.91" y="186.01" font-size="5.6" text-anchor="middle" fill="#000" letter-spacing="1.42" stroke="#000" stroke-width="0.8999999999999999" stroke-linejoin="round">****</text>
<line x1="312.7" y1="195.5" x2="326.4" y2="195.5" stroke="#d4d4d4" stroke-width="0.8"/>
<text x="319.9" y="191.78" font-size="5.3" text-anchor="middle" fill="#000" stroke="#000" stroke-width="0.05">ns</text>
<line x1="312.7" y1="203.1" x2="321.4" y2="203.1" stroke="#9e9e9e" stroke-width="1.15"/>
<text x="316.71" y="202.31" font-size="5.6" text-anchor="middle" fill="#000" letter-spacing="1.42" stroke="#000" stroke-width="0.8999999999999999" stroke-linejoin="round">***</text>
<text x="314.51" y="211.61" font-size="5.6" text-anchor="middle" fill="#000" letter-spacing="1.42" stroke="#000" stroke-width="0.8999999999999999" stroke-linejoin="round">*</text>
<line x1="246.8" y1="216.65" x2="246.8" y2="215.06" stroke="#3a3a3a" stroke-width="0.55"/>
<line x1="245.9" y1="215.06" x2="247.7" y2="215.06" stroke="#3a3a3a" stroke-width="0.55"/>
<rect x="245.2" y="216.65" width="3.2" height="24.45" fill="url(#hatch)" stroke="#808080" stroke-width="0.45"/>
<line x1="251.8" y1="222.69" x2="251.8" y2="221.41" stroke="#3a3a3a" stroke-width="0.55"/>
<line x1="250.9" y1="221.41" x2="252.7" y2="221.41" stroke="#3a3a3a" stroke-width="0.55"/>
<rect x="250.2" y="222.69" width="3.2" height="18.41" fill="#a6a6a6" stroke="#6a6a6a" stroke-width="0.45"/>
<line x1="256.8" y1="221.41" x2="256.8" y2="220.14" stroke="#3a3a3a" stroke-width="0.55"/>
<line x1="255.9" y1="220.14" x2="257.7" y2="220.14" stroke="#3a3a3a" stroke-width="0.55"/>
<rect x="255.2" y="221.41" width="3.2" height="19.68" fill="#000000" stroke="#000000" stroke-width="0.45"/>
<line x1="261.8" y1="220.14" x2="261.8" y2="218.24" stroke="#3a3a3a" stroke-width="0.55"/>
<line x1="260.9" y1="218.24" x2="262.7" y2="218.24" stroke="#3a3a3a" stroke-width="0.55"/>
<rect x="260.2" y="220.14" width="3.2" height="20.96" fill="#dedede" stroke="#808080" stroke-width="0.45"/>
<line x1="266.8" y1="228.4" x2="266.8" y2="227.76" stroke="#3a3a3a" stroke-width="0.55"/>
<line x1="265.9" y1="227.76" x2="267.7" y2="227.76" stroke="#3a3a3a" stroke-width="0.55"/>
<rect x="265.2" y="228.4" width="3.2" height="12.7" fill="#989898" stroke="#606060" stroke-width="0.45"/>
<line x1="271.8" y1="219.19" x2="271.8" y2="217.92" stroke="#3a3a3a" stroke-width="0.55"/>
<line x1="270.9" y1="217.92" x2="272.7" y2="217.92" stroke="#3a3a3a" stroke-width="0.55"/>
<rect x="270.2" y="219.19" width="3.2" height="21.91" fill="#f3f3f3" stroke="#a2a2a2" stroke-width="0.45"/>
<line x1="279.8" y1="222.69" x2="279.8" y2="222.05" stroke="#3a3a3a" stroke-width="0.55"/>
<line x1="278.9" y1="222.05" x2="280.7" y2="222.05" stroke="#3a3a3a" stroke-width="0.55"/>
<rect x="278.2" y="222.69" width="3.2" height="18.41" fill="url(#hatch)" stroke="#808080" stroke-width="0.45"/>
<line x1="284.8" y1="226.81" x2="284.8" y2="225.86" stroke="#3a3a3a" stroke-width="0.55"/>
<line x1="283.9" y1="225.86" x2="285.7" y2="225.86" stroke="#3a3a3a" stroke-width="0.55"/>
<rect x="283.2" y="226.81" width="3.2" height="14.29" fill="#a6a6a6" stroke="#6a6a6a" stroke-width="0.45"/>
<line x1="289.8" y1="226.81" x2="289.8" y2="225.54" stroke="#3a3a3a" stroke-width="0.55"/>
<line x1="288.9" y1="225.54" x2="290.7" y2="225.54" stroke="#3a3a3a" stroke-width="0.55"/>
<rect x="288.2" y="226.81" width="3.2" height="14.29" fill="#000000" stroke="#000000" stroke-width="0.45"/>
<line x1="294.8" y1="225.22" x2="294.8" y2="223.95" stroke="#3a3a3a" stroke-width="0.55"/>
<line x1="293.9" y1="223.95" x2="295.7" y2="223.95" stroke="#3a3a3a" stroke-width="0.55"/>
<rect x="293.2" y="225.22" width="3.2" height="15.88" fill="#dedede" stroke="#808080" stroke-width="0.45"/>
<line x1="299.8" y1="229.99" x2="299.8" y2="228.72" stroke="#3a3a3a" stroke-width="0.55"/>
<line x1="298.9" y1="228.72" x2="300.7" y2="228.72" stroke="#3a3a3a" stroke-width="0.55"/>
<rect x="298.2" y="229.99" width="3.2" height="11.11" fill="#989898" stroke="#606060" stroke-width="0.45"/>
<line x1="304.8" y1="221.73" x2="304.8" y2="219.19" stroke="#3a3a3a" stroke-width="0.55"/>
<line x1="303.9" y1="219.19" x2="305.7" y2="219.19" stroke="#3a3a3a" stroke-width="0.55"/>
<rect x="303.2" y="221.73" width="3.2" height="19.37" fill="#f3f3f3" stroke="#a2a2a2" stroke-width="0.45"/>
<line x1="312.8" y1="226.81" x2="312.8" y2="224.91" stroke="#3a3a3a" stroke-width="0.55"/>
<line x1="311.9" y1="224.91" x2="313.7" y2="224.91" stroke="#3a3a3a" stroke-width="0.55"/>
<rect x="311.2" y="226.81" width="3.2" height="14.29" fill="url(#hatch)" stroke="#808080" stroke-width="0.45"/>
<line x1="317.8" y1="231.26" x2="317.8" y2="230.31" stroke="#3a3a3a" stroke-width="0.55"/>
<line x1="316.9" y1="230.31" x2="318.7" y2="230.31" stroke="#3a3a3a" stroke-width="0.55"/>
<rect x="316.2" y="231.26" width="3.2" height="9.84" fill="#a6a6a6" stroke="#6a6a6a" stroke-width="0.45"/>
<line x1="322.8" y1="233.16" x2="322.8" y2="232.21" stroke="#3a3a3a" stroke-width="0.55"/>
<line x1="321.9" y1="232.21" x2="323.7" y2="232.21" stroke="#3a3a3a" stroke-width="0.55"/>
<rect x="321.2" y="233.16" width="3.2" height="7.94" fill="#000000" stroke="#000000" stroke-width="0.45"/>
<line x1="327.8" y1="229.35" x2="327.8" y2="228.08" stroke="#3a3a3a" stroke-width="0.55"/>
<line x1="326.9" y1="228.08" x2="328.7" y2="228.08" stroke="#3a3a3a" stroke-width="0.55"/>
<rect x="326.2" y="229.35" width="3.2" height="11.75" fill="#dedede" stroke="#808080" stroke-width="0.45"/>
<line x1="332.8" y1="234.75" x2="332.8" y2="232.84" stroke="#3a3a3a" stroke-width="0.55"/>
<line x1="331.9" y1="232.84" x2="333.7" y2="232.84" stroke="#3a3a3a" stroke-width="0.55"/>
<rect x="331.2" y="234.75" width="3.2" height="6.35" fill="#989898" stroke="#606060" stroke-width="0.45"/>
<line x1="337.8" y1="228.4" x2="337.8" y2="227.76" stroke="#3a3a3a" stroke-width="0.55"/>
<line x1="336.9" y1="227.76" x2="338.7" y2="227.76" stroke="#3a3a3a" stroke-width="0.55"/>
<rect x="336.2" y="228.4" width="3.2" height="12.7" fill="#f3f3f3" stroke="#a2a2a2" stroke-width="0.45"/>
<line x1="243.4" y1="177.3" x2="243.4" y2="241.4" stroke="#2a2a2a" stroke-width="0.65"/>
<line x1="243.4" y1="241.1" x2="340" y2="241.1" stroke="#444" stroke-width="0.7" stroke-dasharray="1 0.8"/>
<line x1="259.3" y1="241.1" x2="259.3" y2="242.7" stroke="#333" stroke-width="0.6"/>
<line x1="292.3" y1="241.1" x2="292.3" y2="242.7" stroke="#333" stroke-width="0.6"/>
<line x1="325.3" y1="241.1" x2="325.3" y2="242.7" stroke="#333" stroke-width="0.6"/>
<line x1="241.2" y1="241.1" x2="243.4" y2="241.1" stroke="#333" stroke-width="0.6"/>
<text x="240.9" y="242.68" font-size="4.4" text-anchor="end" fill="#000" stroke="#000" stroke-width="0.08">0</text>
<line x1="241.2" y1="228.4" x2="243.4" y2="228.4" stroke="#333" stroke-width="0.6"/>
<text x="240.9" y="229.98" font-size="4.4" text-anchor="end" fill="#000" stroke="#000" stroke-width="0.08">20</text>
<line x1="241.2" y1="215.7" x2="243.4" y2="215.7" stroke="#333" stroke-width="0.6"/>
<text x="240.9" y="217.28" font-size="4.4" text-anchor="end" fill="#000" stroke="#000" stroke-width="0.08">40</text>
<line x1="241.2" y1="203" x2="243.4" y2="203" stroke="#333" stroke-width="0.6"/>
<text x="240.9" y="204.58" font-size="4.4" text-anchor="end" fill="#000" stroke="#000" stroke-width="0.08">60</text>
<text x="240.9" y="191.88" font-size="4.4" text-anchor="end" fill="#000" stroke="#000" stroke-width="0.08">80</text>
<text x="240.9" y="179.18" font-size="4.4" text-anchor="end" fill="#000" stroke="#000" stroke-width="0.08">100</text>
<text transform="translate(229.4 209.35) rotate(-90)" font-size="5.5" text-anchor="middle" fill="#111">Specific Lysis (%)</text>
<text x="259" y="249.5" font-size="4.6" text-anchor="middle" fill="#000" stroke="#000" stroke-width="0.13">10:1</text>
<text x="291.3" y="249.5" font-size="4.6" text-anchor="middle" fill="#000" stroke="#000" stroke-width="0.13">5:1</text>
<text x="323.5" y="249.5" font-size="4.6" text-anchor="middle" fill="#000" stroke="#000" stroke-width="0.13">2.5:1</text>
<text x="291" y="257.7" font-size="5.2" text-anchor="middle" fill="#000" stroke="#000" stroke-width="0.08">E:T ratio</text>
<rect x="353.1" y="180.5" width="7" height="2.8" fill="url(#hatch)" stroke="#808080" stroke-width="0.4"/>
<text x="363.7" y="183.81" font-size="5.3" text-anchor="start" fill="#1a1a1a">CD276-CAR</text>
<rect x="353.1" y="189.05" width="7" height="2.8" fill="#a6a6a6" stroke="#6a6a6a" stroke-width="0.4"/>
<text x="363.7" y="192.36" font-size="5.3" text-anchor="start" fill="#1a1a1a">Irradiated</text>
<rect x="353.1" y="197.6" width="7" height="2.8" fill="#000000" stroke="#000000" stroke-width="0.4"/>
<text x="363.7" y="200.91" font-size="5.3" text-anchor="start" fill="#1a1a1a">CBLB KO</text>
<rect x="353.1" y="206.15" width="7" height="2.8" fill="#dedede" stroke="#808080" stroke-width="0.4"/>
<text x="363.7" y="209.46" font-size="5.3" text-anchor="start" fill="#1a1a1a">NKG2A KO</text>
<rect x="353.1" y="214.7" width="7" height="2.8" fill="#989898" stroke="#606060" stroke-width="0.4"/>
<text x="363.7" y="218.01" font-size="5.3" text-anchor="start" fill="#1a1a1a">TIGIT KO</text>
<rect x="353.1" y="223.25" width="7" height="2.8" fill="#f3f3f3" stroke="#a2a2a2" stroke-width="0.4"/>
<text x="363.7" y="226.56" font-size="5.3" text-anchor="start" fill="#1a1a1a">Triple KO</text>
</g>
<g id="panel-e">
<text x="5.4" y="287.7" font-size="15" letter-spacing="0.75" fill="#000">(<tspan font-weight="bold">e</tspan>)</text>
<text x="85.5" y="300.8" font-size="8.8" text-anchor="middle" fill="#000" stroke="#000" stroke-width="0.12">U-937</text>
<text x="51.6" y="308.18" font-size="5.3" text-anchor="middle" fill="#000" stroke="#000" stroke-width="0.07">ns</text>
<line x1="40.1" y1="319.4" x2="59.7" y2="319.4" stroke="#9e9e9e" stroke-width="1.15"/>
<text x="49.6" y="316.38" font-size="5.3" text-anchor="middle" fill="#000" stroke="#000" stroke-width="0.07">ns</text>
<text x="47.1" y="324.98" font-size="5.3" text-anchor="middle" fill="#000" stroke="#000" stroke-width="0.07">ns</text>
<line x1="40.1" y1="337.5" x2="49.6" y2="337.5" stroke="#787878" stroke-width="0.7"/>
<text x="45.69" y="336.41" font-size="5.6" text-anchor="middle" fill="#000" letter-spacing="1.57" stroke="#000" stroke-width="0.8" stroke-linejoin="round">****</text>
<text x="42.3" y="344.18" font-size="5.3" text-anchor="middle" fill="#000" stroke="#000" stroke-width="0.07">ns</text>
<text x="85.4" y="308.18" font-size="5.3" text-anchor="middle" fill="#000" stroke="#000" stroke-width="0.07">ns</text>
<line x1="73.6" y1="319.4" x2="93.2" y2="319.4" stroke="#9e9e9e" stroke-width="1.15"/>
<text x="82.8" y="316.38" font-size="5.3" text-anchor="middle" fill="#000" stroke="#000" stroke-width="0.07">ns</text>
<text x="80.4" y="324.98" font-size="5.3" text-anchor="middle" fill="#000" stroke="#000" stroke-width="0.07">ns</text>
<line x1="73.6" y1="337.5" x2="83.1" y2="337.5" stroke="#787878" stroke-width="0.7"/>
<text x="78.49" y="336.41" font-size="5.6" text-anchor="middle" fill="#000" letter-spacing="1.57" stroke="#000" stroke-width="0.8" stroke-linejoin="round">***</text>
<text x="74.9" y="344.18" font-size="5.3" text-anchor="middle" fill="#000" stroke="#000" stroke-width="0.07">ns</text>
<text x="119.3" y="308.18" font-size="5.3" text-anchor="middle" fill="#000" stroke="#000" stroke-width="0.07">ns</text>
<line x1="107.1" y1="319.4" x2="126.7" y2="319.4" stroke="#9e9e9e" stroke-width="1.15"/>
<text x="117.4" y="316.38" font-size="5.3" text-anchor="middle" fill="#000" stroke="#000" stroke-width="0.07">ns</text>
<text x="114.3" y="324.98" font-size="5.3" text-anchor="middle" fill="#000" stroke="#000" stroke-width="0.07">ns</text>
<line x1="107.1" y1="337.5" x2="116.6" y2="337.5" stroke="#787878" stroke-width="0.7"/>
<text x="112.19" y="336.41" font-size="5.6" text-anchor="middle" fill="#000" letter-spacing="1.57" stroke="#000" stroke-width="0.8" stroke-linejoin="round">****</text>
<text x="108.5" y="344.18" font-size="5.3" text-anchor="middle" fill="#000" stroke="#000" stroke-width="0.07">ns</text>
<line x1="40.1" y1="376.93" x2="40.1" y2="374.74" stroke="#3a3a3a" stroke-width="0.55"/>
<line x1="39.2" y1="374.74" x2="41" y2="374.74" stroke="#3a3a3a" stroke-width="0.55"/>
<rect x="38.6" y="376.93" width="3" height="3.07" fill="url(#hatch)" stroke="#808080" stroke-width="0.45"/>
<line x1="45.1" y1="377.15" x2="45.1" y2="374.31" stroke="#3a3a3a" stroke-width="0.55"/>
<line x1="44.2" y1="374.31" x2="46" y2="374.31" stroke="#3a3a3a" stroke-width="0.55"/>
<rect x="43.6" y="377.15" width="3" height="2.85" fill="#a6a6a6" stroke="#6a6a6a" stroke-width="0.45"/>
<line x1="50.1" y1="354.16" x2="50.1" y2="347.81" stroke="#3a3a3a" stroke-width="0.55"/>
<line x1="49.2" y1="347.81" x2="51" y2="347.81" stroke="#3a3a3a" stroke-width="0.55"/>
<rect x="48.6" y="354.16" width="3" height="25.84" fill="#000000" stroke="#000000" stroke-width="0.45"/>
<rect x="53.6" y="379.78" width="3" height="0.22" fill="#dedede" stroke="#808080" stroke-width="0.45"/>
<line x1="60.1" y1="373.21" x2="60.1" y2="371.24" stroke="#3a3a3a" stroke-width="0.55"/>
<line x1="59.2" y1="371.24" x2="61" y2="371.24" stroke="#3a3a3a" stroke-width="0.55"/>
<rect x="58.6" y="373.21" width="3" height="6.79" fill="#989898" stroke="#606060" stroke-width="0.45"/>
<line x1="65.1" y1="371.9" x2="65.1" y2="368.17" stroke="#3a3a3a" stroke-width="0.55"/>
<line x1="64.2" y1="368.17" x2="66" y2="368.17" stroke="#3a3a3a" stroke-width="0.55"/>
<rect x="63.6" y="371.9" width="3" height="8.1" fill="#f3f3f3" stroke="#a2a2a2" stroke-width="0.45"/>
<line x1="73.5" y1="377.37" x2="73.5" y2="373.21" stroke="#3a3a3a" stroke-width="0.55"/>
<line x1="72.6" y1="373.21" x2="74.4" y2="373.21" stroke="#3a3a3a" stroke-width="0.55"/>
<rect x="72" y="377.37" width="3" height="2.63" fill="url(#hatch)" stroke="#808080" stroke-width="0.45"/>
<line x1="78.5" y1="377.37" x2="78.5" y2="376.28" stroke="#3a3a3a" stroke-width="0.55"/>
<line x1="77.6" y1="376.28" x2="79.4" y2="376.28" stroke="#3a3a3a" stroke-width="0.55"/>
<rect x="77" y="377.37" width="3" height="2.63" fill="#a6a6a6" stroke="#6a6a6a" stroke-width="0.45"/>
<line x1="83.5" y1="365.98" x2="83.5" y2="365.33" stroke="#3a3a3a" stroke-width="0.55"/>
<line x1="82.6" y1="365.33" x2="84.4" y2="365.33" stroke="#3a3a3a" stroke-width="0.55"/>
<rect x="82" y="365.98" width="3" height="14.02" fill="#000000" stroke="#000000" stroke-width="0.45"/>
<line x1="88.5" y1="379.56" x2="88.5" y2="378.9" stroke="#3a3a3a" stroke-width="0.55"/>
<line x1="87.6" y1="378.9" x2="89.4" y2="378.9" stroke="#3a3a3a" stroke-width="0.55"/>
<rect x="87" y="379.56" width="3" height="0.44" fill="#dedede" stroke="#808080" stroke-width="0.45"/>
<line x1="93.5" y1="378.47" x2="93.5" y2="376.71" stroke="#3a3a3a" stroke-width="0.55"/>
<line x1="92.6" y1="376.71" x2="94.4" y2="376.71" stroke="#3a3a3a" stroke-width="0.55"/>
<rect x="92" y="378.47" width="3" height="1.53" fill="#989898" stroke="#606060" stroke-width="0.45"/>
<line x1="98.5" y1="377.15" x2="98.5" y2="373.87" stroke="#3a3a3a" stroke-width="0.55"/>
<line x1="97.6" y1="373.87" x2="99.4" y2="373.87" stroke="#3a3a3a" stroke-width="0.55"/>
<rect x="97" y="377.15" width="3" height="2.85" fill="#f3f3f3" stroke="#a2a2a2" stroke-width="0.45"/>
<line x1="106.9" y1="378.9" x2="106.9" y2="378.03" stroke="#3a3a3a" stroke-width="0.55"/>
<line x1="106" y1="378.03" x2="107.8" y2="378.03" stroke="#3a3a3a" stroke-width="0.55"/>
<rect x="105.4" y="378.9" width="3" height="1.09" fill="url(#hatch)" stroke="#808080" stroke-width="0.45"/>
<line x1="111.9" y1="378.9" x2="111.9" y2="377.81" stroke="#3a3a3a" stroke-width="0.55"/>
<line x1="111" y1="377.81" x2="112.8" y2="377.81" stroke="#3a3a3a" stroke-width="0.55"/>
<rect x="110.4" y="378.9" width="3" height="1.09" fill="#a6a6a6" stroke="#6a6a6a" stroke-width="0.45"/>
<line x1="116.9" y1="365.55" x2="116.9" y2="363.57" stroke="#3a3a3a" stroke-width="0.55"/>
<line x1="116" y1="363.57" x2="117.8" y2="363.57" stroke="#3a3a3a" stroke-width="0.55"/>
<rect x="115.4" y="365.55" width="3" height="14.45" fill="#000000" stroke="#000000" stroke-width="0.45"/>
<line x1="121.9" y1="379.34" x2="121.9" y2="371.9" stroke="#3a3a3a" stroke-width="0.55"/>
<line x1="121" y1="371.9" x2="122.8" y2="371.9" stroke="#3a3a3a" stroke-width="0.55"/>
<rect x="120.4" y="379.34" width="3" height="0.66" fill="#dedede" stroke="#808080" stroke-width="0.45"/>
<line x1="126.9" y1="377.81" x2="126.9" y2="375.62" stroke="#3a3a3a" stroke-width="0.55"/>
<line x1="126" y1="375.62" x2="127.8" y2="375.62" stroke="#3a3a3a" stroke-width="0.55"/>
<rect x="125.4" y="377.81" width="3" height="2.19" fill="#989898" stroke="#606060" stroke-width="0.45"/>
<line x1="131.9" y1="378.9" x2="131.9" y2="372.55" stroke="#3a3a3a" stroke-width="0.55"/>
<line x1="131" y1="372.55" x2="132.8" y2="372.55" stroke="#3a3a3a" stroke-width="0.55"/>
<rect x="130.4" y="378.9" width="3" height="1.09" fill="#f3f3f3" stroke="#a2a2a2" stroke-width="0.45"/>
<line x1="36.8" y1="314" x2="36.8" y2="380.3" stroke="#2a2a2a" stroke-width="0.65"/>
<line x1="36.8" y1="380" x2="133" y2="380" stroke="#444" stroke-width="0.7" stroke-dasharray="1 0.8"/>
<line x1="52.6" y1="380" x2="52.6" y2="381.6" stroke="#333" stroke-width="0.6"/>
<line x1="86" y1="380" x2="86" y2="381.6" stroke="#333" stroke-width="0.6"/>
<line x1="119.4" y1="380" x2="119.4" y2="381.6" stroke="#333" stroke-width="0.6"/>
<line x1="34.6" y1="380" x2="36.8" y2="380" stroke="#333" stroke-width="0.6"/>
<text x="33.6" y="381.76" font-size="4.9" text-anchor="end" fill="#000" stroke="#000" stroke-width="0.08">0</text>
<line x1="34.6" y1="358.1" x2="36.8" y2="358.1" stroke="#333" stroke-width="0.6"/>
<text x="33.6" y="359.86" font-size="4.9" text-anchor="end" fill="#000" stroke="#000" stroke-width="0.08">10</text>
<line x1="34.6" y1="336.2" x2="36.8" y2="336.2" stroke="#333" stroke-width="0.6"/>
<text x="33.6" y="337.96" font-size="4.9" text-anchor="end" fill="#000" stroke="#000" stroke-width="0.08">20</text>
<line x1="34.6" y1="314.3" x2="36.8" y2="314.3" stroke="#333" stroke-width="0.6"/>
<text x="33.6" y="316.06" font-size="4.9" text-anchor="end" fill="#000" stroke="#000" stroke-width="0.08">30</text>
<text transform="translate(24.3 347.15) rotate(-90)" font-size="5.6" text-anchor="middle" fill="#111">Specific Lysis (%)</text>
<text x="52.5" y="388.3" font-size="4.9" text-anchor="middle" fill="#000" stroke="#000" stroke-width="0.08">10:1</text>
<text x="85.5" y="388.3" font-size="4.9" text-anchor="middle" fill="#000" stroke="#000" stroke-width="0.08">5:1</text>
<text x="119.8" y="388.3" font-size="4.9" text-anchor="middle" fill="#000" stroke="#000" stroke-width="0.08">2.5:1</text>
<text x="85.5" y="398.3" font-size="5.6" text-anchor="middle" fill="#000" stroke="#000" stroke-width="0.08">E:T ratio</text>
<rect x="150.3" y="316.2" width="5.9" height="3" fill="url(#hatch)" stroke="#808080" stroke-width="0.4"/>
<text x="161" y="319.68" font-size="5.5" text-anchor="start" fill="#1a1a1a">NK-92</text>
<rect x="150.3" y="325.25" width="5.9" height="3" fill="#a6a6a6" stroke="#6a6a6a" stroke-width="0.4"/>
<text x="161" y="328.73" font-size="5.5" text-anchor="start" fill="#1a1a1a">Irradiated</text>
<rect x="150.3" y="334.3" width="5.9" height="3" fill="#000000" stroke="#000000" stroke-width="0.4"/>
<text x="161" y="337.78" font-size="5.5" text-anchor="start" fill="#1a1a1a">CBLB KO</text>
<rect x="150.3" y="343.35" width="5.9" height="3" fill="#dedede" stroke="#808080" stroke-width="0.4"/>
<text x="161" y="346.83" font-size="5.5" text-anchor="start" fill="#1a1a1a">NKG2A KO</text>
<rect x="150.3" y="352.4" width="5.9" height="3" fill="#989898" stroke="#606060" stroke-width="0.4"/>
<text x="161" y="355.88" font-size="5.5" text-anchor="start" fill="#1a1a1a">TIGIT KO</text>
<rect x="150.3" y="361.45" width="5.9" height="3" fill="#f3f3f3" stroke="#a2a2a2" stroke-width="0.4"/>
<text x="161" y="364.93" font-size="5.5" text-anchor="start" fill="#1a1a1a">Triple KO</text>
</g>
<g id="panel-f">
<text x="210" y="287.7" font-size="15" letter-spacing="0.75" fill="#000">(<tspan font-weight="bold">f</tspan>)</text>
<text x="292" y="300.3" font-size="8.8" text-anchor="middle" fill="#000" stroke="#000" stroke-width="0.12">U-937</text>
<text x="259.86" y="309.61" font-size="5.6" text-anchor="middle" fill="#000" letter-spacing="1.12" stroke="#000" stroke-width="0.8999999999999999" stroke-linejoin="round">****</text>
<line x1="244.9" y1="318.5" x2="266.6" y2="318.5" stroke="#d4d4d4" stroke-width="0.8"/>
<text x="257.86" y="317.71" font-size="5.6" text-anchor="middle" fill="#000" letter-spacing="1.12" stroke="#000" stroke-width="0.8999999999999999" stroke-linejoin="round">**</text>
<line x1="244.9" y1="325.5" x2="261.6" y2="325.5" stroke="#787878" stroke-width="0.7"/>
<text x="254.86" y="325.41" font-size="5.6" text-anchor="middle" fill="#000" letter-spacing="1.12" stroke="#000" stroke-width="0.8999999999999999" stroke-linejoin="round">*</text>
<line x1="244.9" y1="334.5" x2="257.3" y2="334.5" stroke="#d4d4d4" stroke-width="0.8"/>
<text x="251.5" y="331.58" font-size="5.3" text-anchor="middle" fill="#000" stroke="#000" stroke-width="0.05">ns</text>
<text x="249.86" y="341.71" font-size="5.6" text-anchor="middle" fill="#000" letter-spacing="1.12" stroke="#000" stroke-width="0.8999999999999999" stroke-linejoin="round">*</text>
<text x="292.66" y="309.61" font-size="5.6" text-anchor="middle" fill="#000" letter-spacing="1.12" stroke="#000" stroke-width="0.8999999999999999" stroke-linejoin="round">****</text>
<line x1="278.7" y1="318.5" x2="299.2" y2="318.5" stroke="#d4d4d4" stroke-width="0.8"/>
<text x="289.2" y="315.28" font-size="5.3" text-anchor="middle" fill="#000" stroke="#000" stroke-width="0.05">ns</text>
<line x1="278.7" y1="325.5" x2="293.8" y2="325.5" stroke="#787878" stroke-width="0.7"/>
<text x="286.8" y="322.98" font-size="5.3" text-anchor="middle" fill="#000" stroke="#000" stroke-width="0.05">ns</text>
<line x1="278.7" y1="334.5" x2="289.3" y2="334.5" stroke="#d4d4d4" stroke-width="0.8"/>
<text x="284.2" y="331.58" font-size="5.3" text-anchor="middle" fill="#000" stroke="#000" stroke-width="0.05">ns</text>
<text x="282.56" y="341.71" font-size="5.6" text-anchor="middle" fill="#000" letter-spacing="1.12" stroke="#000" stroke-width="0.8999999999999999" stroke-linejoin="round">**</text>
<text x="324.26" y="309.61" font-size="5.6" text-anchor="middle" fill="#000" letter-spacing="1.12" stroke="#000" stroke-width="0.8999999999999999" stroke-linejoin="round">****</text>
<line x1="312.5" y1="318.5" x2="332.3" y2="318.5" stroke="#d4d4d4" stroke-width="0.8"/>
<text x="321.4" y="315.28" font-size="5.3" text-anchor="middle" fill="#000" stroke="#000" stroke-width="0.05">ns</text>
<line x1="312.5" y1="325.5" x2="326" y2="325.5" stroke="#787878" stroke-width="0.7"/>
<text x="319.2" y="322.98" font-size="5.3" text-anchor="middle" fill="#000" stroke="#000" stroke-width="0.05">ns</text>
<line x1="312.5" y1="334.5" x2="321.4" y2="334.5" stroke="#d4d4d4" stroke-width="0.8"/>
<text x="316.4" y="331.58" font-size="5.3" text-anchor="middle" fill="#000" stroke="#000" stroke-width="0.05">ns</text>
<text x="314.76" y="341.71" font-size="5.6" text-anchor="middle" fill="#000" letter-spacing="1.12" stroke="#000" stroke-width="0.8999999999999999" stroke-linejoin="round">*</text>
<line x1="246.7" y1="354.85" x2="246.7" y2="354.22" stroke="#3a3a3a" stroke-width="0.55"/>
<line x1="245.8" y1="354.22" x2="247.6" y2="354.22" stroke="#3a3a3a" stroke-width="0.55"/>
<rect x="245.1" y="354.85" width="3.2" height="22.05" fill="url(#hatch)" stroke="#808080" stroke-width="0.45"/>
<line x1="251.7" y1="350.44" x2="251.7" y2="347.92" stroke="#3a3a3a" stroke-width="0.55"/>
<line x1="250.8" y1="347.92" x2="252.6" y2="347.92" stroke="#3a3a3a" stroke-width="0.55"/>
<rect x="250.1" y="350.44" width="3.2" height="26.46" fill="#a6a6a6" stroke="#6a6a6a" stroke-width="0.45"/>
<line x1="256.7" y1="351.7" x2="256.7" y2="349.81" stroke="#3a3a3a" stroke-width="0.55"/>
<line x1="255.8" y1="349.81" x2="257.6" y2="349.81" stroke="#3a3a3a" stroke-width="0.55"/>
<rect x="255.1" y="351.7" width="3.2" height="25.2" fill="#000000" stroke="#000000" stroke-width="0.45"/>
<line x1="261.7" y1="349.81" x2="261.7" y2="347.92" stroke="#3a3a3a" stroke-width="0.55"/>
<line x1="260.8" y1="347.92" x2="262.6" y2="347.92" stroke="#3a3a3a" stroke-width="0.55"/>
<rect x="260.1" y="349.81" width="3.2" height="27.09" fill="#dedede" stroke="#808080" stroke-width="0.45"/>
<line x1="266.7" y1="361.15" x2="266.7" y2="358.63" stroke="#3a3a3a" stroke-width="0.55"/>
<line x1="265.8" y1="358.63" x2="267.6" y2="358.63" stroke="#3a3a3a" stroke-width="0.55"/>
<rect x="265.1" y="361.15" width="3.2" height="15.75" fill="#989898" stroke="#606060" stroke-width="0.45"/>
<line x1="271.7" y1="343.82" x2="271.7" y2="342.56" stroke="#3a3a3a" stroke-width="0.55"/>
<line x1="270.8" y1="342.56" x2="272.6" y2="342.56" stroke="#3a3a3a" stroke-width="0.55"/>
<rect x="270.1" y="343.82" width="3.2" height="33.08" fill="#f3f3f3" stroke="#a2a2a2" stroke-width="0.45"/>
<line x1="279.5" y1="359.89" x2="279.5" y2="357.37" stroke="#3a3a3a" stroke-width="0.55"/>
<line x1="278.6" y1="357.37" x2="280.4" y2="357.37" stroke="#3a3a3a" stroke-width="0.55"/>
<rect x="277.9" y="359.89" width="3.2" height="17.01" fill="url(#hatch)" stroke="#808080" stroke-width="0.45"/>
<line x1="284.5" y1="354.22" x2="284.5" y2="351.7" stroke="#3a3a3a" stroke-width="0.55"/>
<line x1="283.6" y1="351.7" x2="285.4" y2="351.7" stroke="#3a3a3a" stroke-width="0.55"/>
<rect x="282.9" y="354.22" width="3.2" height="22.68" fill="#a6a6a6" stroke="#6a6a6a" stroke-width="0.45"/>
<line x1="289.5" y1="358" x2="289.5" y2="357.37" stroke="#3a3a3a" stroke-width="0.55"/>
<line x1="288.6" y1="357.37" x2="290.4" y2="357.37" stroke="#3a3a3a" stroke-width="0.55"/>
<rect x="287.9" y="358" width="3.2" height="18.9" fill="#000000" stroke="#000000" stroke-width="0.45"/>
<line x1="294.5" y1="357.37" x2="294.5" y2="355.48" stroke="#3a3a3a" stroke-width="0.55"/>
<line x1="293.6" y1="355.48" x2="295.4" y2="355.48" stroke="#3a3a3a" stroke-width="0.55"/>
<rect x="292.9" y="357.37" width="3.2" height="19.53" fill="#dedede" stroke="#808080" stroke-width="0.45"/>
<line x1="299.5" y1="363.04" x2="299.5" y2="362.09" stroke="#3a3a3a" stroke-width="0.55"/>
<line x1="298.6" y1="362.09" x2="300.4" y2="362.09" stroke="#3a3a3a" stroke-width="0.55"/>
<rect x="297.9" y="363.04" width="3.2" height="13.86" fill="#989898" stroke="#606060" stroke-width="0.45"/>
<line x1="304.5" y1="348.55" x2="304.5" y2="347.92" stroke="#3a3a3a" stroke-width="0.55"/>
<line x1="303.6" y1="347.92" x2="305.4" y2="347.92" stroke="#3a3a3a" stroke-width="0.55"/>
<rect x="302.9" y="348.55" width="3.2" height="28.35" fill="#f3f3f3" stroke="#a2a2a2" stroke-width="0.45"/>
<line x1="312.3" y1="363.04" x2="312.3" y2="361.78" stroke="#3a3a3a" stroke-width="0.55"/>
<line x1="311.4" y1="361.78" x2="313.2" y2="361.78" stroke="#3a3a3a" stroke-width="0.55"/>
<rect x="310.7" y="363.04" width="3.2" height="13.86" fill="url(#hatch)" stroke="#808080" stroke-width="0.45"/>
<line x1="317.3" y1="358" x2="317.3" y2="354.22" stroke="#3a3a3a" stroke-width="0.55"/>
<line x1="316.4" y1="354.22" x2="318.2" y2="354.22" stroke="#3a3a3a" stroke-width="0.55"/>
<rect x="315.7" y="358" width="3.2" height="18.9" fill="#a6a6a6" stroke="#6a6a6a" stroke-width="0.45"/>
<line x1="322.3" y1="361.78" x2="322.3" y2="360.83" stroke="#3a3a3a" stroke-width="0.55"/>
<line x1="321.4" y1="360.83" x2="323.2" y2="360.83" stroke="#3a3a3a" stroke-width="0.55"/>
<rect x="320.7" y="361.78" width="3.2" height="15.12" fill="#000000" stroke="#000000" stroke-width="0.45"/>
<line x1="327.3" y1="361.15" x2="327.3" y2="360.2" stroke="#3a3a3a" stroke-width="0.55"/>
<line x1="326.4" y1="360.2" x2="328.2" y2="360.2" stroke="#3a3a3a" stroke-width="0.55"/>
<rect x="325.7" y="361.15" width="3.2" height="15.75" fill="#dedede" stroke="#808080" stroke-width="0.45"/>
<line x1="332.3" y1="365.56" x2="332.3" y2="364.93" stroke="#3a3a3a" stroke-width="0.55"/>
<line x1="331.4" y1="364.93" x2="333.2" y2="364.93" stroke="#3a3a3a" stroke-width="0.55"/>
<rect x="330.7" y="365.56" width="3.2" height="11.34" fill="#989898" stroke="#606060" stroke-width="0.45"/>
<line x1="337.3" y1="351.07" x2="337.3" y2="350.12" stroke="#3a3a3a" stroke-width="0.55"/>
<line x1="336.4" y1="350.12" x2="338.2" y2="350.12" stroke="#3a3a3a" stroke-width="0.55"/>
<rect x="335.7" y="351.07" width="3.2" height="25.83" fill="#f3f3f3" stroke="#a2a2a2" stroke-width="0.45"/>
<line x1="243.4" y1="313.6" x2="243.4" y2="377.2" stroke="#2a2a2a" stroke-width="0.65"/>
<line x1="243.4" y1="376.9" x2="340" y2="376.9" stroke="#444" stroke-width="0.7" stroke-dasharray="1 0.8"/>
<line x1="259.2" y1="376.9" x2="259.2" y2="378.5" stroke="#333" stroke-width="0.6"/>
<line x1="292" y1="376.9" x2="292" y2="378.5" stroke="#333" stroke-width="0.6"/>
<line x1="324.8" y1="376.9" x2="324.8" y2="378.5" stroke="#333" stroke-width="0.6"/>
<line x1="241.2" y1="376.9" x2="243.4" y2="376.9" stroke="#333" stroke-width="0.6"/>
<text x="240.9" y="378.48" font-size="4.4" text-anchor="end" fill="#000" stroke="#000" stroke-width="0.08">0</text>
<line x1="241.2" y1="364.3" x2="243.4" y2="364.3" stroke="#333" stroke-width="0.6"/>
<text x="240.9" y="365.88" font-size="4.4" text-anchor="end" fill="#000" stroke="#000" stroke-width="0.08">20</text>
<line x1="241.2" y1="351.7" x2="243.4" y2="351.7" stroke="#333" stroke-width="0.6"/>
<text x="240.9" y="353.28" font-size="4.4" text-anchor="end" fill="#000" stroke="#000" stroke-width="0.08">40</text>
<line x1="241.2" y1="339.1" x2="243.4" y2="339.1" stroke="#333" stroke-width="0.6"/>
<text x="240.9" y="340.68" font-size="4.4" text-anchor="end" fill="#000" stroke="#000" stroke-width="0.08">60</text>
<line x1="241.2" y1="326.5" x2="243.4" y2="326.5" stroke="#333" stroke-width="0.6"/>
<text x="240.9" y="328.08" font-size="4.4" text-anchor="end" fill="#000" stroke="#000" stroke-width="0.08">80</text>
<line x1="241.2" y1="313.9" x2="243.4" y2="313.9" stroke="#333" stroke-width="0.6"/>
<text x="240.9" y="315.48" font-size="4.4" text-anchor="end" fill="#000" stroke="#000" stroke-width="0.08">100</text>
<text transform="translate(229.4 345.4) rotate(-90)" font-size="5.5" text-anchor="middle" fill="#111">Specific Lysis (%)</text>
<text x="259" y="384.2" font-size="4.6" text-anchor="middle" fill="#000" stroke="#000" stroke-width="0.13">10:1</text>
<text x="291.3" y="384.2" font-size="4.6" text-anchor="middle" fill="#000" stroke="#000" stroke-width="0.13">5:1</text>
<text x="323.5" y="384.2" font-size="4.6" text-anchor="middle" fill="#000" stroke="#000" stroke-width="0.13">2.5:1</text>
<text x="291" y="393.5" font-size="5.2" text-anchor="middle" fill="#000" stroke="#000" stroke-width="0.08">E:T ratio</text>
<rect x="353.3" y="315.8" width="7" height="2.8" fill="url(#hatch)" stroke="#808080" stroke-width="0.4"/>
<text x="364" y="319.11" font-size="5.3" text-anchor="start" fill="#1a1a1a">CD276-CAR</text>
<rect x="353.3" y="324.46" width="7" height="2.8" fill="#a6a6a6" stroke="#6a6a6a" stroke-width="0.4"/>
<text x="364" y="327.77" font-size="5.3" text-anchor="start" fill="#1a1a1a">Irradiated</text>
<rect x="353.3" y="333.12" width="7" height="2.8" fill="#000000" stroke="#000000" stroke-width="0.4"/>
<text x="364" y="336.43" font-size="5.3" text-anchor="start" fill="#1a1a1a">CBLB KO</text>
<rect x="353.3" y="341.78" width="7" height="2.8" fill="#dedede" stroke="#808080" stroke-width="0.4"/>
<text x="364" y="345.09" font-size="5.3" text-anchor="start" fill="#1a1a1a">NKG2A KO</text>
<rect x="353.3" y="350.44" width="7" height="2.8" fill="#989898" stroke="#606060" stroke-width="0.4"/>
<text x="364" y="353.75" font-size="5.3" text-anchor="start" fill="#1a1a1a">TIGIT KO</text>
<rect x="353.3" y="359.1" width="7" height="2.8" fill="#f3f3f3" stroke="#a2a2a2" stroke-width="0.4"/>
<text x="364" y="362.41" font-size="5.3" text-anchor="start" fill="#1a1a1a">Triple KO</text>
</g>
<g id="panel-g">
<text x="5.6" y="419" font-size="15" letter-spacing="0.75" fill="#000">(<tspan font-weight="bold">g</tspan>)</text>
<text x="87.3" y="437.2" font-size="9.5" text-anchor="middle" fill="#000" stroke="#000" stroke-width="0.12">U-937 CD19/Luc</text>
<text x="45.8" y="449.08" font-size="5.3" text-anchor="middle" fill="#000" stroke="#000" stroke-width="0.07">ns</text>
<line x1="36.5" y1="462.5" x2="51.1" y2="462.5" stroke="#787878" stroke-width="0.7"/>
<text x="43.3" y="458.88" font-size="5.3" text-anchor="middle" fill="#000" stroke="#000" stroke-width="0.07">ns</text>
<text x="41.6" y="467.68" font-size="5.3" text-anchor="middle" fill="#000" stroke="#000" stroke-width="0.07">ns</text>
<text x="39.5" y="477.28" font-size="5.3" text-anchor="middle" fill="#000" stroke="#000" stroke-width="0.07">ns</text>
<line x1="36.5" y1="489.5" x2="39.5" y2="489.5" stroke="#787878" stroke-width="0.7"/>
<text x="37.8" y="486.18" font-size="5.3" text-anchor="middle" fill="#000" stroke="#000" stroke-width="0.07">ns</text>
<text x="72.89" y="450.61" font-size="5.6" text-anchor="middle" fill="#000" letter-spacing="1.57" stroke="#000" stroke-width="0.7" stroke-linejoin="round">*</text>
<line x1="62.1" y1="462.5" x2="76.7" y2="462.5" stroke="#787878" stroke-width="0.7"/>
<text x="70.39" y="460.41" font-size="5.6" text-anchor="middle" fill="#000" letter-spacing="1.57" stroke="#000" stroke-width="0.7" stroke-linejoin="round">*</text>
<text x="67.3" y="467.68" font-size="5.3" text-anchor="middle" fill="#000" stroke="#000" stroke-width="0.07">ns</text>
<text x="66.59" y="478.81" font-size="5.6" text-anchor="middle" fill="#000" letter-spacing="1.57" stroke="#000" stroke-width="0.7" stroke-linejoin="round">**</text>
<line x1="62.1" y1="489.5" x2="65.1" y2="489.5" stroke="#787878" stroke-width="0.7"/>
<text x="63" y="486.18" font-size="5.3" text-anchor="middle" fill="#000" stroke="#000" stroke-width="0.07">ns</text>
<text x="97.2" y="449.08" font-size="5.3" text-anchor="middle" fill="#000" stroke="#000" stroke-width="0.07">ns</text>
<line x1="87.7" y1="462.5" x2="102.3" y2="462.5" stroke="#787878" stroke-width="0.7"/>
<text x="96.19" y="460.41" font-size="5.6" text-anchor="middle" fill="#000" letter-spacing="1.57" stroke="#000" stroke-width="0.7" stroke-linejoin="round">***</text>
<text x="93.79" y="469.21" font-size="5.6" text-anchor="middle" fill="#000" letter-spacing="1.57" stroke="#000" stroke-width="0.7" stroke-linejoin="round">**</text>
<text x="92.29" y="478.81" font-size="5.6" text-anchor="middle" fill="#000" letter-spacing="1.57" stroke="#000" stroke-width="0.7" stroke-linejoin="round">****</text>
<line x1="87.7" y1="489.5" x2="90.7" y2="489.5" stroke="#787878" stroke-width="0.7"/>
<text x="89.1" y="486.18" font-size="5.3" text-anchor="middle" fill="#000" stroke="#000" stroke-width="0.07">ns</text>
<text x="122.3" y="449.08" font-size="5.3" text-anchor="middle" fill="#000" stroke="#000" stroke-width="0.07">ns</text>
<line x1="113.3" y1="462.5" x2="127.9" y2="462.5" stroke="#787878" stroke-width="0.7"/>
<text x="121.89" y="460.41" font-size="5.6" text-anchor="middle" fill="#000" letter-spacing="1.57" stroke="#000" stroke-width="0.7" stroke-linejoin="round">****</text>
<text x="118.4" y="467.68" font-size="5.3" text-anchor="middle" fill="#000" stroke="#000" stroke-width="0.07">ns</text>
<text x="117.39" y="478.81" font-size="5.6" text-anchor="middle" fill="#000" letter-spacing="1.57" stroke="#000" stroke-width="0.7" stroke-linejoin="round">****</text>
<line x1="113.3" y1="489.5" x2="116.3" y2="489.5" stroke="#787878" stroke-width="0.7"/>
<text x="115.7" y="486.18" font-size="5.3" text-anchor="middle" fill="#000" stroke="#000" stroke-width="0.07">ns</text>
<line x1="36.1" y1="522.1" x2="36.1" y2="519.16" stroke="#3a3a3a" stroke-width="0.55"/>
<line x1="35.2" y1="519.16" x2="37" y2="519.16" stroke="#3a3a3a" stroke-width="0.55"/>
<rect x="34.9" y="522.1" width="2.4" height="4.2" fill="url(#hatch)" stroke="#808080" stroke-width="0.45"/>
<line x1="40.05" y1="522.1" x2="40.05" y2="516.22" stroke="#3a3a3a" stroke-width="0.55"/>
<line x1="39.15" y1="516.22" x2="40.95" y2="516.22" stroke="#3a3a3a" stroke-width="0.55"/>
<rect x="38.85" y="522.1" width="2.4" height="4.2" fill="#a6a6a6" stroke="#6a6a6a" stroke-width="0.45"/>
<line x1="47.95" y1="519.58" x2="47.95" y2="516.64" stroke="#3a3a3a" stroke-width="0.55"/>
<line x1="47.05" y1="516.64" x2="48.85" y2="516.64" stroke="#3a3a3a" stroke-width="0.55"/>
<rect x="46.75" y="519.58" width="2.4" height="6.72" fill="#dedede" stroke="#808080" stroke-width="0.45"/>
<line x1="51.9" y1="522.1" x2="51.9" y2="518.74" stroke="#3a3a3a" stroke-width="0.55"/>
<line x1="51" y1="518.74" x2="52.8" y2="518.74" stroke="#3a3a3a" stroke-width="0.55"/>
<rect x="50.7" y="522.1" width="2.4" height="4.2" fill="#989898" stroke="#606060" stroke-width="0.45"/>
<line x1="55.85" y1="525.46" x2="55.85" y2="520" stroke="#3a3a3a" stroke-width="0.55"/>
<line x1="54.95" y1="520" x2="56.75" y2="520" stroke="#3a3a3a" stroke-width="0.55"/>
<rect x="54.65" y="525.46" width="2.4" height="0.84" fill="#f3f3f3" stroke="#a2a2a2" stroke-width="0.45"/>
<rect x="60.6" y="526.05" width="2.4" height="0.25" fill="url(#hatch)" stroke="#808080" stroke-width="0.45"/>
<line x1="65.75" y1="518.32" x2="65.75" y2="514.54" stroke="#3a3a3a" stroke-width="0.55"/>
<line x1="64.85" y1="514.54" x2="66.65" y2="514.54" stroke="#3a3a3a" stroke-width="0.55"/>
<rect x="64.55" y="518.32" width="2.4" height="7.98" fill="#a6a6a6" stroke="#6a6a6a" stroke-width="0.45"/>
<line x1="69.7" y1="516.47" x2="69.7" y2="512.27" stroke="#3a3a3a" stroke-width="0.55"/>
<line x1="68.8" y1="512.27" x2="70.6" y2="512.27" stroke="#3a3a3a" stroke-width="0.55"/>
<rect x="68.5" y="516.47" width="2.4" height="9.83" fill="#000000" stroke="#000000" stroke-width="0.45"/>
<line x1="73.65" y1="518.32" x2="73.65" y2="514.54" stroke="#3a3a3a" stroke-width="0.55"/>
<line x1="72.75" y1="514.54" x2="74.55" y2="514.54" stroke="#3a3a3a" stroke-width="0.55"/>
<rect x="72.45" y="518.32" width="2.4" height="7.98" fill="#dedede" stroke="#808080" stroke-width="0.45"/>
<line x1="77.6" y1="516.64" x2="77.6" y2="512.02" stroke="#3a3a3a" stroke-width="0.55"/>
<line x1="76.7" y1="512.02" x2="78.5" y2="512.02" stroke="#3a3a3a" stroke-width="0.55"/>
<rect x="76.4" y="516.64" width="2.4" height="9.66" fill="#989898" stroke="#606060" stroke-width="0.45"/>
<line x1="81.55" y1="518.32" x2="81.55" y2="512.44" stroke="#3a3a3a" stroke-width="0.55"/>
<line x1="80.65" y1="512.44" x2="82.45" y2="512.44" stroke="#3a3a3a" stroke-width="0.55"/>
<rect x="80.35" y="518.32" width="2.4" height="7.98" fill="#f3f3f3" stroke="#a2a2a2" stroke-width="0.45"/>
<line x1="87.5" y1="523.78" x2="87.5" y2="521.26" stroke="#3a3a3a" stroke-width="0.55"/>
<line x1="86.6" y1="521.26" x2="88.4" y2="521.26" stroke="#3a3a3a" stroke-width="0.55"/>
<rect x="86.3" y="523.78" width="2.4" height="2.52" fill="url(#hatch)" stroke="#808080" stroke-width="0.45"/>
<line x1="91.45" y1="519.58" x2="91.45" y2="517.9" stroke="#3a3a3a" stroke-width="0.55"/>
<line x1="90.55" y1="517.9" x2="92.35" y2="517.9" stroke="#3a3a3a" stroke-width="0.55"/>
<rect x="90.25" y="519.58" width="2.4" height="6.72" fill="#a6a6a6" stroke="#6a6a6a" stroke-width="0.45"/>
<line x1="95.4" y1="506.14" x2="95.4" y2="504.88" stroke="#3a3a3a" stroke-width="0.55"/>
<line x1="94.5" y1="504.88" x2="96.3" y2="504.88" stroke="#3a3a3a" stroke-width="0.55"/>
<rect x="94.2" y="506.14" width="2.4" height="20.16" fill="#000000" stroke="#000000" stroke-width="0.45"/>
<line x1="99.35" y1="513.7" x2="99.35" y2="508.66" stroke="#3a3a3a" stroke-width="0.55"/>
<line x1="98.45" y1="508.66" x2="100.25" y2="508.66" stroke="#3a3a3a" stroke-width="0.55"/>
<rect x="98.15" y="513.7" width="2.4" height="12.6" fill="#dedede" stroke="#808080" stroke-width="0.45"/>
<line x1="103.3" y1="510.76" x2="103.3" y2="505.72" stroke="#3a3a3a" stroke-width="0.55"/>
<line x1="102.4" y1="505.72" x2="104.2" y2="505.72" stroke="#3a3a3a" stroke-width="0.55"/>
<rect x="102.1" y="510.76" width="2.4" height="15.54" fill="#989898" stroke="#606060" stroke-width="0.45"/>
<line x1="107.25" y1="516.64" x2="107.25" y2="513.28" stroke="#3a3a3a" stroke-width="0.55"/>
<line x1="106.35" y1="513.28" x2="108.15" y2="513.28" stroke="#3a3a3a" stroke-width="0.55"/>
<rect x="106.05" y="516.64" width="2.4" height="9.66" fill="#f3f3f3" stroke="#a2a2a2" stroke-width="0.45"/>
<line x1="113.2" y1="517.48" x2="113.2" y2="516.64" stroke="#3a3a3a" stroke-width="0.55"/>
<line x1="112.3" y1="516.64" x2="114.1" y2="516.64" stroke="#3a3a3a" stroke-width="0.55"/>
<rect x="112" y="517.48" width="2.4" height="8.82" fill="url(#hatch)" stroke="#808080" stroke-width="0.45"/>
<line x1="117.15" y1="510.76" x2="117.15" y2="508.24" stroke="#3a3a3a" stroke-width="0.55"/>
<line x1="116.25" y1="508.24" x2="118.05" y2="508.24" stroke="#3a3a3a" stroke-width="0.55"/>
<rect x="115.95" y="510.76" width="2.4" height="15.54" fill="#a6a6a6" stroke="#6a6a6a" stroke-width="0.45"/>
<line x1="121.1" y1="495.22" x2="121.1" y2="492.7" stroke="#3a3a3a" stroke-width="0.55"/>
<line x1="120.2" y1="492.7" x2="122" y2="492.7" stroke="#3a3a3a" stroke-width="0.55"/>
<rect x="119.9" y="495.22" width="2.4" height="31.08" fill="#000000" stroke="#000000" stroke-width="0.45"/>
<line x1="125.05" y1="503.2" x2="125.05" y2="498.16" stroke="#3a3a3a" stroke-width="0.55"/>
<line x1="124.15" y1="498.16" x2="125.95" y2="498.16" stroke="#3a3a3a" stroke-width="0.55"/>
<rect x="123.85" y="503.2" width="2.4" height="23.1" fill="#dedede" stroke="#808080" stroke-width="0.45"/>
<line x1="129" y1="499.42" x2="129" y2="497.32" stroke="#3a3a3a" stroke-width="0.55"/>
<line x1="128.1" y1="497.32" x2="129.9" y2="497.32" stroke="#3a3a3a" stroke-width="0.55"/>
<rect x="127.8" y="499.42" width="2.4" height="26.88" fill="#989898" stroke="#606060" stroke-width="0.45"/>
<line x1="132.95" y1="516.22" x2="132.95" y2="513.7" stroke="#3a3a3a" stroke-width="0.55"/>
<line x1="132.05" y1="513.7" x2="133.85" y2="513.7" stroke="#3a3a3a" stroke-width="0.55"/>
<rect x="131.75" y="516.22" width="2.4" height="10.08" fill="#f3f3f3" stroke="#a2a2a2" stroke-width="0.45"/>
<line x1="33.6" y1="526.3" x2="137" y2="526.3" stroke="#444" stroke-width="0.7" stroke-dasharray="1 0.8"/>
<line x1="45.98" y1="526.3" x2="45.98" y2="527.9" stroke="#333" stroke-width="0.6"/>
<line x1="71.68" y1="526.3" x2="71.68" y2="527.9" stroke="#333" stroke-width="0.6"/>
<line x1="97.38" y1="526.3" x2="97.38" y2="527.9" stroke="#333" stroke-width="0.6"/>
<line x1="123.08" y1="526.3" x2="123.08" y2="527.9" stroke="#333" stroke-width="0.6"/>
<text x="29.4" y="528.06" font-size="4.9" text-anchor="end" fill="#000" stroke="#000" stroke-width="0.08">0</text>
<line x1="30.4" y1="509.5" x2="33.6" y2="509.5" stroke="#333" stroke-width="0.6"/>
<text x="29.4" y="511.26" font-size="4.9" text-anchor="end" fill="#000" stroke="#000" stroke-width="0.08">20</text>
<line x1="30.4" y1="492.7" x2="33.6" y2="492.7" stroke="#333" stroke-width="0.6"/>
<text x="29.4" y="494.46" font-size="4.9" text-anchor="end" fill="#000" stroke="#000" stroke-width="0.08">40</text>
<text x="29.4" y="477.66" font-size="4.9" text-anchor="end" fill="#000" stroke="#000" stroke-width="0.08">60</text>
<text x="29.4" y="460.86" font-size="4.9" text-anchor="end" fill="#000" stroke="#000" stroke-width="0.08">80</text>
<text transform="translate(20.5 492.7) rotate(-90)" font-size="5.6" text-anchor="middle" fill="#111">Specific Lysis (%)</text>
<text x="45.3" y="533.5" font-size="4.9" text-anchor="middle" fill="#000" stroke="#000" stroke-width="0.08">0h</text>
<text x="71.3" y="533.5" font-size="4.9" text-anchor="middle" fill="#000" stroke="#000" stroke-width="0.08">2h</text>
<text x="97.2" y="533.5" font-size="4.9" text-anchor="middle" fill="#000" stroke="#000" stroke-width="0.08">4h</text>
<text x="122.9" y="533.5" font-size="4.9" text-anchor="middle" fill="#000" stroke="#000" stroke-width="0.08">6h</text>
<text x="83.7" y="539.6" font-size="5.9" text-anchor="middle" fill="#000" stroke="#000" stroke-width="0.08">Time</text>
<rect x="150.4" y="462.3" width="5.9" height="3" fill="url(#hatch)" stroke="#808080" stroke-width="0.4"/>
<text x="161.6" y="465.78" font-size="5.5" text-anchor="start" fill="#1a1a1a">NK-92</text>
<rect x="150.4" y="471.38" width="5.9" height="3" fill="#a6a6a6" stroke="#6a6a6a" stroke-width="0.4"/>
<text x="161.6" y="474.86" font-size="5.5" text-anchor="start" fill="#1a1a1a">Irradiated</text>
<rect x="150.4" y="480.46" width="5.9" height="3" fill="#000000" stroke="#000000" stroke-width="0.4"/>
<text x="161.6" y="483.94" font-size="5.5" text-anchor="start" fill="#1a1a1a">CBLB KO</text>
<rect x="150.4" y="489.54" width="5.9" height="3" fill="#dedede" stroke="#808080" stroke-width="0.4"/>
<text x="161.6" y="493.02" font-size="5.5" text-anchor="start" fill="#1a1a1a">NKG2A KO</text>
<rect x="150.4" y="498.62" width="5.9" height="3" fill="#989898" stroke="#606060" stroke-width="0.4"/>
<text x="161.6" y="502.1" font-size="5.5" text-anchor="start" fill="#1a1a1a">TIGIT KO</text>
<rect x="150.4" y="507.7" width="5.9" height="3" fill="#f3f3f3" stroke="#a2a2a2" stroke-width="0.4"/>
<text x="161.6" y="511.18" font-size="5.5" text-anchor="start" fill="#1a1a1a">Triple KO</text>
</g>
<g id="panel-h">
<text x="210" y="419" font-size="15" letter-spacing="0.75" fill="#000">(<tspan font-weight="bold">h</tspan>)</text>
<text x="289.4" y="422.1" font-size="9.05" text-anchor="middle" fill="#000" stroke="#000" stroke-width="0.12">U-937 CD19/Luc</text>
<text x="252.7" y="432.88" font-size="5.3" text-anchor="middle" fill="#000" stroke="#000" stroke-width="0.05">ns</text>
<text x="251.5" y="441.58" font-size="5.3" text-anchor="middle" fill="#000" stroke="#000" stroke-width="0.05">ns</text>
<line x1="245.7" y1="454.5" x2="255.8" y2="454.5" stroke="#787878" stroke-width="0.7"/>
<text x="250.2" y="450.78" font-size="5.3" text-anchor="middle" fill="#000" stroke="#000" stroke-width="0.05">ns</text>
<line x1="245.7" y1="462.5" x2="252" y2="462.5" stroke="#787878" stroke-width="0.7"/>
<text x="248.2" y="458.68" font-size="5.3" text-anchor="middle" fill="#000" stroke="#000" stroke-width="0.05">ns</text>
<line x1="245.7" y1="470.5" x2="248.5" y2="470.5" stroke="#787878" stroke-width="0.7"/>
<text x="246.4" y="466.88" font-size="5.3" text-anchor="middle" fill="#000" stroke="#000" stroke-width="0.05">ns</text>
<text x="279.66" y="435.31" font-size="5.6" text-anchor="middle" fill="#000" letter-spacing="1.12" stroke="#000" stroke-width="0.8" stroke-linejoin="round">****</text>
<text x="275.9" y="441.58" font-size="5.3" text-anchor="middle" fill="#000" stroke="#000" stroke-width="0.05">ns</text>
<line x1="269.6" y1="454.5" x2="279.7" y2="454.5" stroke="#787878" stroke-width="0.7"/>
<text x="275.76" y="453.21" font-size="5.6" text-anchor="middle" fill="#000" letter-spacing="1.12" stroke="#000" stroke-width="0.8" stroke-linejoin="round">****</text>
<line x1="269.6" y1="462.5" x2="275.9" y2="462.5" stroke="#787878" stroke-width="0.7"/>
<text x="273.76" y="461.11" font-size="5.6" text-anchor="middle" fill="#000" letter-spacing="1.12" stroke="#000" stroke-width="0.8" stroke-linejoin="round">****</text>
<line x1="269.6" y1="470.5" x2="272.4" y2="470.5" stroke="#787878" stroke-width="0.7"/>
<text x="271.96" y="469.31" font-size="5.6" text-anchor="middle" fill="#000" letter-spacing="1.12" stroke="#000" stroke-width="0.8" stroke-linejoin="round">*</text>
<text x="302.36" y="435.31" font-size="5.6" text-anchor="middle" fill="#000" letter-spacing="1.12" stroke="#000" stroke-width="0.8" stroke-linejoin="round">****</text>
<text x="300.5" y="441.58" font-size="5.3" text-anchor="middle" fill="#000" stroke="#000" stroke-width="0.05">ns</text>
<line x1="293.5" y1="454.5" x2="304.2" y2="454.5" stroke="#787878" stroke-width="0.7"/>
<text x="300.06" y="453.21" font-size="5.6" text-anchor="middle" fill="#000" letter-spacing="1.12" stroke="#000" stroke-width="0.8" stroke-linejoin="round">****</text>
<line x1="293.5" y1="462.5" x2="299.8" y2="462.5" stroke="#787878" stroke-width="0.7"/>
<text x="296" y="458.68" font-size="5.3" text-anchor="middle" fill="#000" stroke="#000" stroke-width="0.05">ns</text>
<line x1="293.5" y1="470.5" x2="296.3" y2="470.5" stroke="#787878" stroke-width="0.7"/>
<text x="295.2" y="466.88" font-size="5.3" text-anchor="middle" fill="#000" stroke="#000" stroke-width="0.05">ns</text>
<text x="327.36" y="435.31" font-size="5.6" text-anchor="middle" fill="#000" letter-spacing="1.12" stroke="#000" stroke-width="0.8" stroke-linejoin="round">***</text>
<text x="324.5" y="441.58" font-size="5.3" text-anchor="middle" fill="#000" stroke="#000" stroke-width="0.05">ns</text>
<line x1="317.4" y1="454.5" x2="328.1" y2="454.5" stroke="#787878" stroke-width="0.7"/>
<text x="323.66" y="453.21" font-size="5.6" text-anchor="middle" fill="#000" letter-spacing="1.12" stroke="#000" stroke-width="0.8" stroke-linejoin="round">****</text>
<line x1="317.4" y1="462.5" x2="323.7" y2="462.5" stroke="#787878" stroke-width="0.7"/>
<text x="321.66" y="461.11" font-size="5.6" text-anchor="middle" fill="#000" letter-spacing="1.12" stroke="#000" stroke-width="0.8" stroke-linejoin="round">**</text>
<line x1="317.4" y1="470.5" x2="321.5" y2="470.5" stroke="#787878" stroke-width="0.7"/>
<text x="319" y="466.88" font-size="5.3" text-anchor="middle" fill="#000" stroke="#000" stroke-width="0.05">ns</text>
<line x1="270" y1="504.05" x2="270" y2="503.41" stroke="#3a3a3a" stroke-width="0.55"/>
<line x1="269.1" y1="503.41" x2="270.9" y2="503.41" stroke="#3a3a3a" stroke-width="0.55"/>
<rect x="268.6" y="504.05" width="2.8" height="29.35" fill="url(#hatch)" stroke="#808080" stroke-width="0.45"/>
<line x1="273.55" y1="498.31" x2="273.55" y2="492.57" stroke="#3a3a3a" stroke-width="0.55"/>
<line x1="272.65" y1="492.57" x2="274.45" y2="492.57" stroke="#3a3a3a" stroke-width="0.55"/>
<rect x="272.15" y="498.31" width="2.8" height="35.09" fill="#a6a6a6" stroke="#6a6a6a" stroke-width="0.45"/>
<line x1="277.1" y1="516.49" x2="277.1" y2="513.3" stroke="#3a3a3a" stroke-width="0.55"/>
<line x1="276.2" y1="513.3" x2="278" y2="513.3" stroke="#3a3a3a" stroke-width="0.55"/>
<rect x="275.7" y="516.49" width="2.8" height="16.91" fill="#000000" stroke="#000000" stroke-width="0.45"/>
<line x1="280.65" y1="523.83" x2="280.65" y2="517.45" stroke="#3a3a3a" stroke-width="0.55"/>
<line x1="279.75" y1="517.45" x2="281.55" y2="517.45" stroke="#3a3a3a" stroke-width="0.55"/>
<rect x="279.25" y="523.83" width="2.8" height="9.57" fill="#dedede" stroke="#808080" stroke-width="0.45"/>
<line x1="284.2" y1="501.18" x2="284.2" y2="499.27" stroke="#3a3a3a" stroke-width="0.55"/>
<line x1="283.3" y1="499.27" x2="285.1" y2="499.27" stroke="#3a3a3a" stroke-width="0.55"/>
<rect x="282.8" y="501.18" width="2.8" height="32.22" fill="#989898" stroke="#606060" stroke-width="0.45"/>
<line x1="287.75" y1="523.83" x2="287.75" y2="518.09" stroke="#3a3a3a" stroke-width="0.55"/>
<line x1="286.85" y1="518.09" x2="288.65" y2="518.09" stroke="#3a3a3a" stroke-width="0.55"/>
<rect x="286.35" y="523.83" width="2.8" height="9.57" fill="#f3f3f3" stroke="#a2a2a2" stroke-width="0.45"/>
<line x1="294.2" y1="479.17" x2="294.2" y2="477.26" stroke="#3a3a3a" stroke-width="0.55"/>
<line x1="293.3" y1="477.26" x2="295.1" y2="477.26" stroke="#3a3a3a" stroke-width="0.55"/>
<rect x="292.8" y="479.17" width="2.8" height="54.23" fill="url(#hatch)" stroke="#808080" stroke-width="0.45"/>
<line x1="297.75" y1="474.7" x2="297.75" y2="474.07" stroke="#3a3a3a" stroke-width="0.55"/>
<line x1="296.85" y1="474.07" x2="298.65" y2="474.07" stroke="#3a3a3a" stroke-width="0.55"/>
<rect x="296.35" y="474.7" width="2.8" height="58.7" fill="#a6a6a6" stroke="#6a6a6a" stroke-width="0.45"/>
<line x1="301.3" y1="484.27" x2="301.3" y2="483.64" stroke="#3a3a3a" stroke-width="0.55"/>
<line x1="300.4" y1="483.64" x2="302.2" y2="483.64" stroke="#3a3a3a" stroke-width="0.55"/>
<rect x="299.9" y="484.27" width="2.8" height="49.13" fill="#000000" stroke="#000000" stroke-width="0.45"/>
<line x1="304.85" y1="501.18" x2="304.85" y2="495.44" stroke="#3a3a3a" stroke-width="0.55"/>
<line x1="303.95" y1="495.44" x2="305.75" y2="495.44" stroke="#3a3a3a" stroke-width="0.55"/>
<rect x="303.45" y="501.18" width="2.8" height="32.22" fill="#dedede" stroke="#808080" stroke-width="0.45"/>
<line x1="308.4" y1="477.26" x2="308.4" y2="476.3" stroke="#3a3a3a" stroke-width="0.55"/>
<line x1="307.5" y1="476.3" x2="309.3" y2="476.3" stroke="#3a3a3a" stroke-width="0.55"/>
<rect x="307" y="477.26" width="2.8" height="56.14" fill="#989898" stroke="#606060" stroke-width="0.45"/>
<line x1="311.95" y1="492.89" x2="311.95" y2="489.06" stroke="#3a3a3a" stroke-width="0.55"/>
<line x1="311.05" y1="489.06" x2="312.85" y2="489.06" stroke="#3a3a3a" stroke-width="0.55"/>
<rect x="310.55" y="492.89" width="2.8" height="40.51" fill="#f3f3f3" stroke="#a2a2a2" stroke-width="0.45"/>
<line x1="318.4" y1="472.47" x2="318.4" y2="471.51" stroke="#3a3a3a" stroke-width="0.55"/>
<line x1="317.5" y1="471.51" x2="319.3" y2="471.51" stroke="#3a3a3a" stroke-width="0.55"/>
<rect x="317" y="472.47" width="2.8" height="60.93" fill="url(#hatch)" stroke="#808080" stroke-width="0.45"/>
<line x1="321.95" y1="474.07" x2="321.95" y2="472.79" stroke="#3a3a3a" stroke-width="0.55"/>
<line x1="321.05" y1="472.79" x2="322.85" y2="472.79" stroke="#3a3a3a" stroke-width="0.55"/>
<rect x="320.55" y="474.07" width="2.8" height="59.33" fill="#a6a6a6" stroke="#6a6a6a" stroke-width="0.45"/>
<line x1="325.5" y1="481.08" x2="325.5" y2="478.21" stroke="#3a3a3a" stroke-width="0.55"/>
<line x1="324.6" y1="478.21" x2="326.4" y2="478.21" stroke="#3a3a3a" stroke-width="0.55"/>
<rect x="324.1" y="481.08" width="2.8" height="52.32" fill="#000000" stroke="#000000" stroke-width="0.45"/>
<line x1="329.05" y1="489.06" x2="329.05" y2="488.1" stroke="#3a3a3a" stroke-width="0.55"/>
<line x1="328.15" y1="488.1" x2="329.95" y2="488.1" stroke="#3a3a3a" stroke-width="0.55"/>
<rect x="327.65" y="489.06" width="2.8" height="44.34" fill="#dedede" stroke="#808080" stroke-width="0.45"/>
<line x1="332.6" y1="475.98" x2="332.6" y2="473.43" stroke="#3a3a3a" stroke-width="0.55"/>
<line x1="331.7" y1="473.43" x2="333.5" y2="473.43" stroke="#3a3a3a" stroke-width="0.55"/>
<rect x="331.2" y="475.98" width="2.8" height="57.42" fill="#989898" stroke="#606060" stroke-width="0.45"/>
<line x1="336.15" y1="483.95" x2="336.15" y2="480.13" stroke="#3a3a3a" stroke-width="0.55"/>
<line x1="335.25" y1="480.13" x2="337.05" y2="480.13" stroke="#3a3a3a" stroke-width="0.55"/>
<rect x="334.75" y="483.95" width="2.8" height="49.45" fill="#f3f3f3" stroke="#a2a2a2" stroke-width="0.45"/>
<line x1="243" y1="469.3" x2="243" y2="533.7" stroke="#2a2a2a" stroke-width="0.65"/>
<line x1="243" y1="533.4" x2="340" y2="533.4" stroke="#444" stroke-width="0.7" stroke-dasharray="1 0.8"/>
<line x1="254.67" y1="533.4" x2="254.67" y2="535" stroke="#333" stroke-width="0.6"/>
<line x1="278.88" y1="533.4" x2="278.88" y2="535" stroke="#333" stroke-width="0.6"/>
<line x1="303.07" y1="533.4" x2="303.07" y2="535" stroke="#333" stroke-width="0.6"/>
<line x1="327.27" y1="533.4" x2="327.27" y2="535" stroke="#333" stroke-width="0.6"/>
<line x1="240.8" y1="533.4" x2="243" y2="533.4" stroke="#333" stroke-width="0.6"/>
<text x="240.2" y="534.98" font-size="4.4" text-anchor="end" fill="#000" stroke="#000" stroke-width="0.08">0</text>
<line x1="240.8" y1="520.64" x2="243" y2="520.64" stroke="#333" stroke-width="0.6"/>
<text x="240.2" y="522.22" font-size="4.4" text-anchor="end" fill="#000" stroke="#000" stroke-width="0.08">20</text>
<line x1="240.8" y1="507.88" x2="243" y2="507.88" stroke="#333" stroke-width="0.6"/>
<text x="240.2" y="509.46" font-size="4.4" text-anchor="end" fill="#000" stroke="#000" stroke-width="0.08">40</text>
<line x1="240.8" y1="495.12" x2="243" y2="495.12" stroke="#333" stroke-width="0.6"/>
<text x="240.2" y="496.7" font-size="4.4" text-anchor="end" fill="#000" stroke="#000" stroke-width="0.08">60</text>
<line x1="240.8" y1="482.36" x2="243" y2="482.36" stroke="#333" stroke-width="0.6"/>
<text x="240.2" y="483.94" font-size="4.4" text-anchor="end" fill="#000" stroke="#000" stroke-width="0.08">80</text>
<line x1="240.8" y1="469.6" x2="243" y2="469.6" stroke="#333" stroke-width="0.6"/>
<text x="240.2" y="471.18" font-size="4.4" text-anchor="end" fill="#000" stroke="#000" stroke-width="0.08">100</text>
<text transform="translate(229.4 501.5) rotate(-90)" font-size="5.5" text-anchor="middle" fill="#111">Specific Lysis (%)</text>
<text x="254" y="540.8" font-size="4.5" text-anchor="middle" fill="#000" stroke="#000" stroke-width="0.13">0h</text>
<text x="278.4" y="540.8" font-size="4.5" text-anchor="middle" fill="#000" stroke="#000" stroke-width="0.13">2h</text>
<text x="302" y="540.8" font-size="4.5" text-anchor="middle" fill="#000" stroke="#000" stroke-width="0.13">4h</text>
<text x="326" y="540.8" font-size="4.5" text-anchor="middle" fill="#000" stroke="#000" stroke-width="0.13">6h</text>
<text x="290" y="545.5" font-size="4.8" text-anchor="middle" fill="#000" stroke="#000" stroke-width="0.14">Time</text>
<rect x="352.8" y="472.8" width="7" height="2.8" fill="url(#hatch)" stroke="#808080" stroke-width="0.4"/>
<text x="363.7" y="476.11" font-size="5.3" text-anchor="start" fill="#1a1a1a">CD276-CAR</text>
<rect x="352.8" y="481.35" width="7" height="2.8" fill="#a6a6a6" stroke="#6a6a6a" stroke-width="0.4"/>
<text x="363.7" y="484.66" font-size="5.3" text-anchor="start" fill="#1a1a1a">Irradiated</text>
<rect x="352.8" y="489.9" width="7" height="2.8" fill="#000000" stroke="#000000" stroke-width="0.4"/>
<text x="363.7" y="493.21" font-size="5.3" text-anchor="start" fill="#1a1a1a">CBLB KO</text>
<rect x="352.8" y="498.45" width="7" height="2.8" fill="#dedede" stroke="#808080" stroke-width="0.4"/>
<text x="363.7" y="501.76" font-size="5.3" text-anchor="start" fill="#1a1a1a">NKG2A KO</text>
<rect x="352.8" y="507" width="7" height="2.8" fill="#989898" stroke="#606060" stroke-width="0.4"/>
<text x="363.7" y="510.31" font-size="5.3" text-anchor="start" fill="#1a1a1a">TIGIT KO</text>
<rect x="352.8" y="515.55" width="7" height="2.8" fill="#f3f3f3" stroke="#a2a2a2" stroke-width="0.4"/>
<text x="363.7" y="518.86" font-size="5.3" text-anchor="start" fill="#1a1a1a">Triple KO</text>
</g>
</svg>
</body>
</html>
